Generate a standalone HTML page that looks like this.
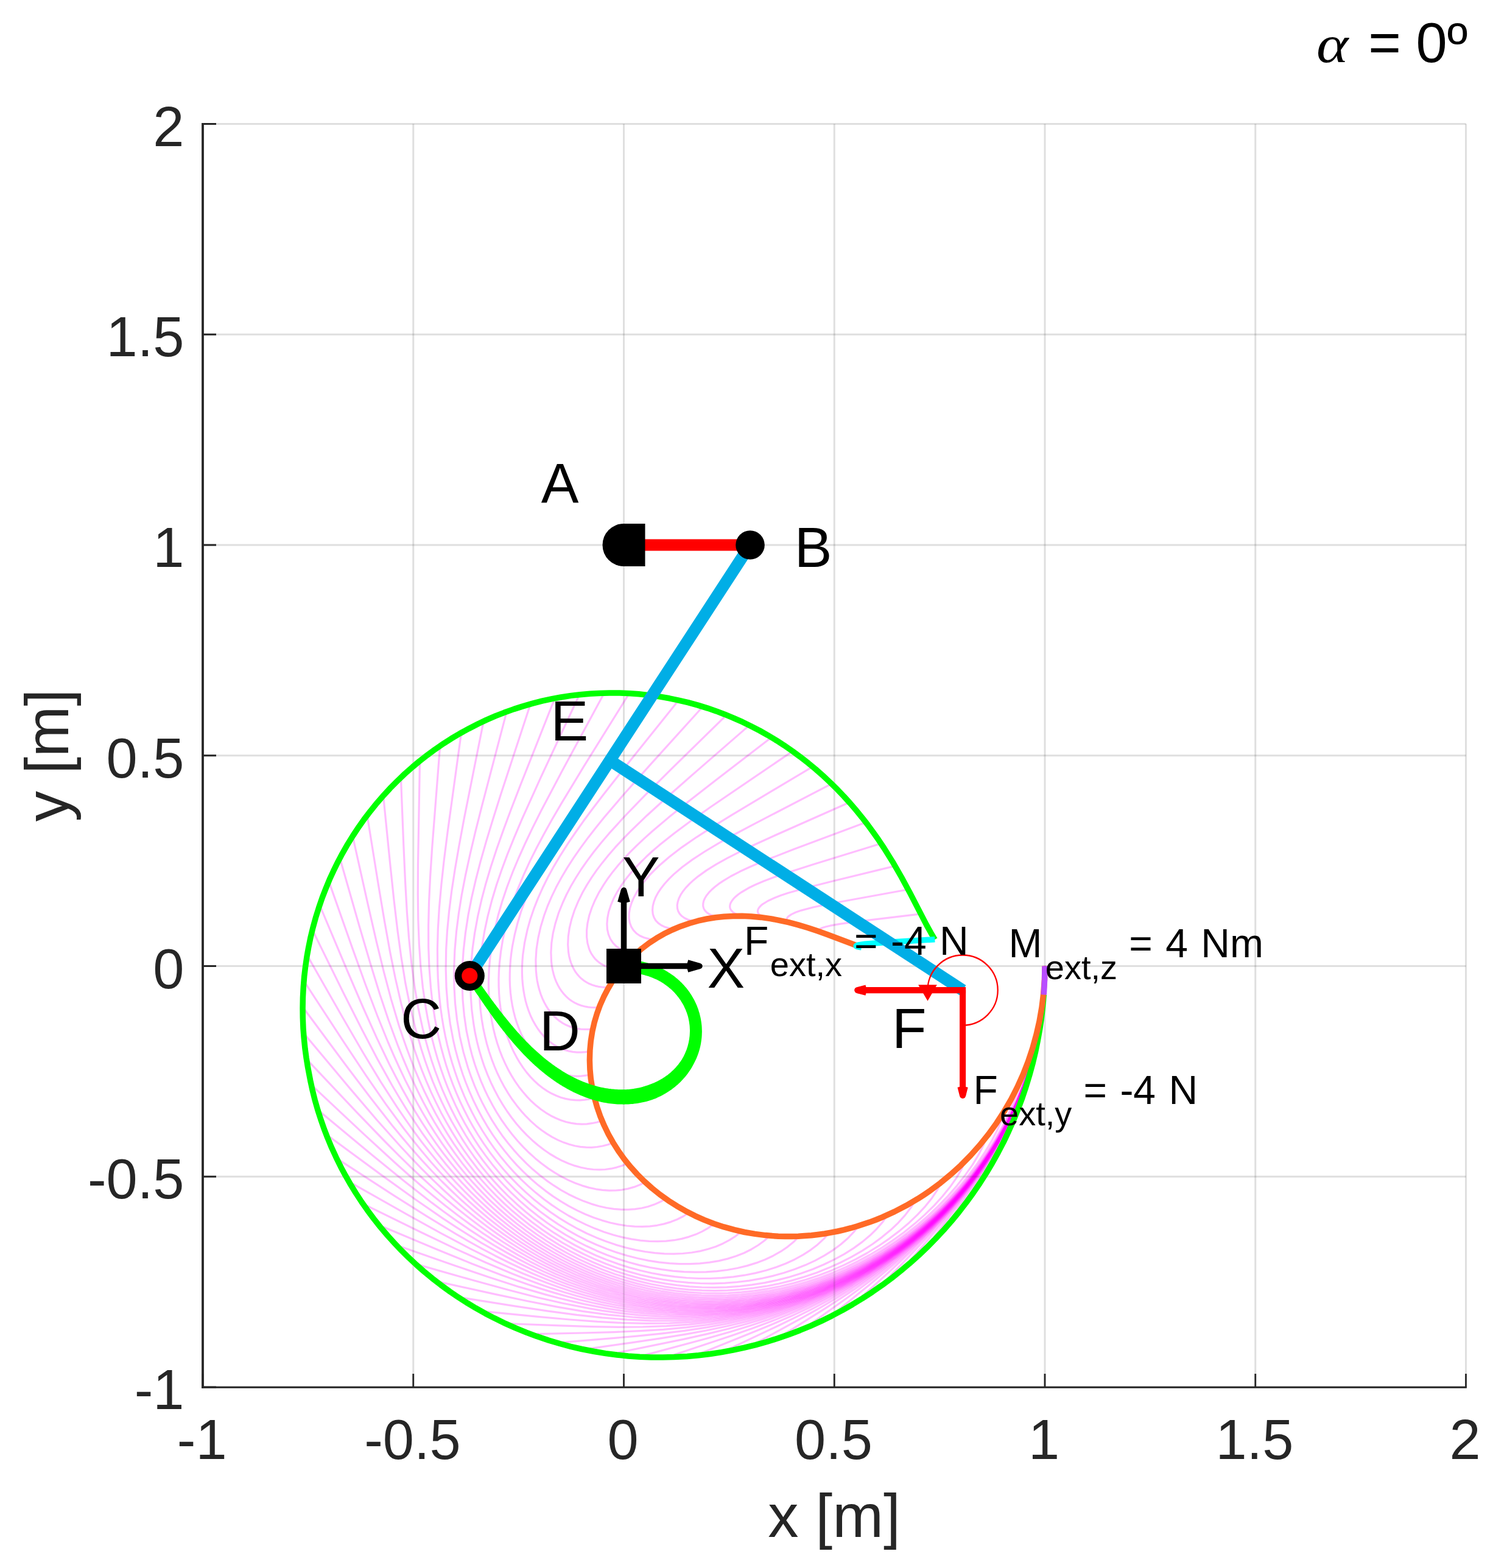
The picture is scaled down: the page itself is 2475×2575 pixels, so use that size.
<!DOCTYPE html>
<html lang="en"><head><meta charset="utf-8"><title>alpha = 0</title><style>html,body{margin:0;padding:0;background:#fff;}body{width:2475px;height:2575px;overflow:hidden;position:relative;}</style></head><body>
<svg xmlns="http://www.w3.org/2000/svg" width="2475" height="2575" viewBox="0 0 2475 2575" style="display:block;position:absolute;left:0;top:0">
<rect x="0" y="0" width="2475" height="2575" fill="#ffffff"/>
<g fill="none" stroke="#ff00ff" stroke-opacity="0.26" stroke-width="3.2" stroke-linejoin="round">
<path d="M1414.8,1555.8L1407.8,1554.6L1406.4,1553.8L1406.4,1553.1L1407.9,1552.3L1410.7,1551.6L1420.4,1550.2L1449.0,1547.9L1535.3,1542.8"/>
<path d="M1356.1,1533.6L1350.4,1532.5L1346.4,1531.0L1344.3,1529.4L1344.1,1528.4L1344.3,1527.5L1346.3,1525.6L1350.2,1523.8L1355.9,1522.0L1363.5,1520.2L1379.2,1517.4L1401.6,1514.2L1512.2,1500.9"/>
<path d="M1307.4,1518.0L1300.2,1516.3L1295.2,1514.0L1293.6,1512.6L1292.6,1511.2L1292.2,1509.7L1292.5,1508.1L1293.4,1506.5L1294.9,1504.9L1299.7,1501.6L1306.7,1498.3L1316.0,1495.1L1335.2,1490.0L1362.2,1484.2L1491.4,1460.7"/>
<path d="M1262.8,1508.3L1254.2,1506.1L1250.8,1504.6L1248.1,1502.9L1246.1,1501.0L1244.9,1499.0L1244.4,1496.7L1244.7,1494.4L1245.7,1492.0L1247.4,1489.6L1249.8,1487.1L1252.9,1484.6L1261.2,1479.5L1272.0,1474.5L1282.2,1470.6L1294.2,1466.5L1325.2,1457.7L1366.8,1447.2L1469.9,1422.1"/>
<path d="M1220.6,1504.3L1215.2,1503.2L1210.5,1501.7L1206.6,1499.9L1203.4,1497.7L1201.0,1495.2L1199.4,1492.5L1198.7,1489.5L1198.9,1486.3L1199.9,1483.1L1201.8,1479.7L1204.5,1476.2L1207.9,1472.7L1212.3,1469.0L1217.2,1465.5L1229.4,1458.3L1240.8,1452.8L1254.3,1447.0L1270.1,1441.0L1289.0,1434.5L1335.0,1419.7L1447.0,1385.3"/>
<path d="M1180.4,1506.0L1174.3,1504.8L1168.9,1503.1L1164.2,1500.9L1160.5,1498.2L1157.6,1495.1L1155.7,1491.7L1154.7,1487.8L1154.8,1483.8L1155.7,1479.5L1157.7,1475.0L1160.5,1470.4L1164.3,1465.7L1168.9,1461.0L1174.3,1456.2L1180.5,1451.4L1187.7,1446.6L1200.3,1439.0L1215.1,1431.3L1232.4,1423.3L1253.0,1414.5L1302.7,1395.1L1421.9,1350.5"/>
<path d="M1142.5,1513.2L1135.4,1511.9L1129.3,1510.0L1124.0,1507.5L1119.6,1504.3L1116.2,1500.6L1113.8,1496.4L1112.5,1491.7L1112.2,1486.6L1113.1,1481.2L1114.9,1475.5L1117.8,1469.7L1121.7,1463.7L1126.6,1457.6L1132.5,1451.4L1139.2,1445.2L1146.7,1439.1L1160.2,1429.4L1176.3,1419.4L1194.7,1409.1L1216.8,1397.9L1240.1,1386.8L1269.8,1373.2L1394.9,1317.7"/>
<path d="M1107.0,1525.6L1099.1,1524.4L1092.1,1522.4L1086.1,1519.5L1081.0,1515.9L1076.9,1511.6L1074.0,1506.5L1072.2,1500.9L1071.6,1494.7L1072.1,1488.2L1073.8,1481.3L1076.5,1474.1L1080.4,1466.7L1085.5,1459.0L1091.4,1451.5L1098.5,1443.7L1106.4,1435.9L1120.7,1423.8L1137.6,1411.4L1157.3,1398.5L1180.5,1384.6L1205.0,1371.0L1236.3,1354.3L1365.8,1287.2"/>
<path d="M1074.5,1543.1L1065.8,1541.9L1057.9,1539.8L1051.0,1536.7L1045.1,1532.7L1040.3,1527.7L1036.7,1521.9L1034.3,1515.3L1033.1,1508.0L1033.2,1500.2L1034.5,1491.9L1037.1,1483.2L1040.9,1474.2L1045.7,1465.2L1051.7,1456.0L1058.7,1446.7L1066.9,1437.2L1074.0,1429.8L1081.8,1422.3L1099.2,1407.2L1119.6,1391.6L1144.0,1374.8L1169.5,1358.3L1201.9,1338.3L1334.6,1259.1"/>
<path d="M1045.5,1565.1L1035.8,1564.2L1027.1,1562.1L1019.3,1558.8L1012.5,1554.3L1006.9,1548.7L1002.5,1542.1L999.3,1534.5L997.4,1526.1L996.9,1517.1L997.7,1507.5L999.7,1497.3L1003.1,1486.9L1007.6,1476.1L1013.5,1465.0L1020.5,1453.9L1028.7,1442.5L1036.0,1433.6L1043.7,1424.8L1052.4,1415.8L1061.6,1406.8L1071.7,1397.5L1082.7,1388.1L1107.6,1368.2L1133.8,1348.8L1167.1,1325.3L1301.7,1233.6"/>
<path d="M1020.4,1591.4L1009.9,1590.7L1000.2,1588.7L995.7,1587.1L991.4,1585.2L987.4,1583.0L983.7,1580.4L980.3,1577.5L977.1,1574.3L974.3,1570.7L971.7,1566.9L969.5,1562.8L967.6,1558.4L964.9,1548.9L963.6,1538.6L963.6,1527.5L965.0,1515.8L967.7,1503.6L971.9,1491.0L977.2,1478.4L983.9,1465.3L991.8,1452.3L999.0,1441.7L1006.7,1431.4L1015.2,1421.0L1024.5,1410.4L1034.6,1399.7L1045.7,1388.6L1057.9,1377.1L1071.1,1365.2L1097.9,1342.6L1131.6,1315.5L1174.6,1282.0L1266.9,1210.9"/>
<path d="M999.8,1621.2L994.0,1621.3L988.3,1621.0L982.9,1620.3L977.6,1619.1L972.6,1617.5L967.8,1615.6L963.3,1613.2L959.1,1610.5L955.1,1607.3L951.4,1603.8L948.0,1599.9L944.9,1595.7L942.2,1591.1L939.8,1586.2L937.7,1581.0L936.0,1575.5L934.6,1569.8L933.6,1563.8L932.7,1551.2L933.3,1537.8L935.3,1523.8L938.8,1509.4L943.5,1495.0L949.6,1480.4L957.0,1465.3L964.0,1453.1L971.6,1441.1L979.9,1429.1L989.2,1416.9L999.2,1404.5L1010.3,1391.7L1022.3,1378.7L1035.6,1365.1L1062.5,1339.2L1096.2,1308.5L1139.2,1270.6L1230.6,1191.1"/>
<path d="M984.1,1654.2L977.8,1654.6L971.7,1654.5L965.8,1653.9L960.0,1652.8L954.4,1651.3L949.1,1649.3L944.0,1646.9L939.2,1644.0L934.6,1640.7L930.3,1636.9L926.3,1632.7L922.6,1628.1L919.2,1623.1L916.2,1617.8L913.5,1612.1L911.1,1606.0L909.2,1599.7L907.6,1593.1L906.3,1586.2L905.5,1579.0L904.9,1564.1L905.8,1548.5L908.2,1532.7L912.1,1516.4L917.3,1499.7L924.2,1482.5L930.4,1469.0L937.6,1455.3L945.7,1441.5L954.6,1427.5L964.5,1413.4L975.4,1398.8L987.3,1384.0L1000.3,1368.7L1026.9,1339.5L1060.4,1304.9L1103.1,1262.4L1193.0,1174.3"/>
<path d="M973.7,1689.6L966.9,1690.3L960.4,1690.4L953.9,1690.1L947.6,1689.2L941.5,1687.7L935.6,1685.8L929.9,1683.3L924.4,1680.4L919.2,1676.9L914.2,1672.9L909.5,1668.5L905.2,1663.6L901.1,1658.3L897.3,1652.5L893.9,1646.3L890.8,1639.7L888.1,1632.8L885.8,1625.6L883.8,1618.0L882.2,1610.2L881.1,1602.2L880.3,1593.8L879.9,1576.7L881.0,1559.1L883.8,1540.7L888.0,1522.0L893.7,1503.2L899.3,1488.0L905.9,1472.6L913.4,1457.1L922.0,1441.3L931.4,1425.4L941.7,1409.3L953.3,1392.6L966.0,1375.4L978.4,1359.4L992.1,1342.6L1025.0,1304.0L1066.8,1257.1L1154.2,1160.5"/>
<path d="M968.8,1726.7L961.6,1727.7L954.5,1728.2L947.6,1728.1L940.7,1727.4L934.1,1726.1L927.5,1724.3L921.2,1721.9L915.1,1718.9L909.1,1715.3L903.4,1711.2L898.0,1706.5L892.8,1701.3L887.9,1695.7L883.3,1689.5L879.1,1682.9L875.1,1675.8L871.6,1668.5L868.5,1660.7L865.7,1652.6L863.3,1644.1L861.4,1635.5L859.8,1626.6L858.6,1617.3L857.8,1607.9L857.4,1598.1L857.4,1588.5L857.9,1578.6L858.7,1568.3L861.7,1547.6L866.2,1526.7L870.9,1509.8L876.7,1492.7L883.5,1475.4L891.1,1458.3L899.9,1440.5L909.7,1422.6L920.6,1404.3L932.8,1385.2L944.8,1367.5L958.0,1348.8L972.8,1328.8L989.8,1306.5L1030.3,1255.0L1114.5,1150.0"/>
<path d="M969.6,1764.7L962.0,1766.2L954.5,1767.1L947.0,1767.3L939.7,1766.8L932.4,1765.8L925.2,1764.1L918.2,1761.7L911.3,1758.8L904.6,1755.1L898.1,1751.0L891.9,1746.2L885.8,1740.8L880.1,1734.9L874.6,1728.4L869.4,1721.4L864.5,1714.0L860.1,1706.1L856.0,1697.9L852.3,1689.2L849.0,1680.2L846.0,1670.9L843.5,1661.1L841.4,1651.1L839.7,1640.9L838.4,1630.2L837.6,1619.8L837.2,1609.0L837.3,1598.6L837.7,1587.8L838.5,1576.6L839.8,1565.3L841.5,1553.7L845.2,1535.2L849.8,1516.8L855.5,1497.7L862.3,1478.8L870.2,1459.2L879.2,1439.3L889.3,1419.2L900.8,1398.1L912.2,1378.6L924.8,1358.1L939.0,1336.1L955.3,1311.8L994.0,1256.0L1074.1,1142.7"/>
<path d="M976.3,1802.9L968.3,1804.9L960.3,1806.2L952.4,1806.8L944.5,1806.7L936.6,1805.9L928.8,1804.4L921.0,1802.2L913.4,1799.3L905.9,1795.8L898.5,1791.6L891.3,1786.7L884.3,1781.2L877.6,1775.1L871.1,1768.4L864.9,1761.1L859.1,1753.4L853.7,1745.2L848.6,1736.6L843.8,1727.6L839.5,1718.1L835.5,1708.3L831.9,1698.1L828.8,1687.6L826.1,1676.8L823.7,1665.3L821.9,1654.2L820.5,1642.5L819.6,1631.3L819.1,1619.6L819.0,1607.5L819.4,1595.2L820.3,1582.7L822.6,1562.5L825.9,1542.6L830.5,1521.8L836.2,1501.1L842.9,1480.3L850.9,1458.6L860.1,1436.6L870.6,1413.6L881.1,1392.7L892.9,1370.4L906.2,1346.5L921.6,1320.1L958.2,1259.7L1033.4,1138.7"/>
<path d="M988.8,1840.5L980.5,1843.0L972.1,1844.7L963.7,1845.8L955.2,1846.1L946.7,1845.6L938.2,1844.4L929.7,1842.5L921.3,1839.8L912.9,1836.3L904.6,1832.2L896.4,1827.3L888.4,1821.8L880.6,1815.6L873.1,1808.8L865.9,1801.4L858.9,1793.3L852.3,1784.9L846.0,1775.9L840.1,1766.4L834.6,1756.6L829.6,1746.4L824.8,1735.6L820.6,1724.8L816.7,1713.3L813.2,1701.2L810.3,1689.4L807.8,1677.0L805.8,1665.0L804.3,1652.5L803.2,1639.7L802.6,1626.5L802.4,1613.8L803.2,1592.2L805.1,1570.7L808.2,1548.9L812.5,1526.6L817.9,1504.0L824.7,1480.5L832.7,1456.7L842.0,1432.2L851.5,1409.5L862.3,1385.5L874.6,1359.6L888.8,1331.2L922.8,1266.8L992.4,1138.1"/>
<path d="M1007.0,1876.6L998.4,1879.7L989.6,1882.0L980.7,1883.5L971.7,1884.3L962.6,1884.2L953.3,1883.4L944.1,1881.7L934.8,1879.3L925.5,1876.1L916.2,1872.1L907.0,1867.4L898.0,1861.9L889.1,1855.7L880.4,1848.9L872.0,1841.4L863.8,1833.2L856.0,1824.6L848.6,1815.4L841.4,1805.8L834.7,1795.6L828.3,1784.9L822.4,1773.9L817.0,1762.8L811.9,1750.8L807.4,1739.1L803.2,1726.7L799.4,1713.7L796.3,1701.0L793.5,1687.8L791.2,1674.2L789.4,1660.2L788.2,1646.8L787.2,1623.8L787.4,1600.9L788.9,1577.6L791.7,1553.7L795.7,1529.5L801.0,1504.9L807.6,1479.3L815.5,1453.0L823.8,1428.7L833.4,1402.9L844.4,1375.6L857.3,1345.2L888.2,1276.6L951.6,1140.8"/>
<path d="M1030.8,1910.5L1021.9,1914.2L1012.8,1917.1L1003.5,1919.2L994.0,1920.5L984.2,1920.9L974.3,1920.5L964.3,1919.3L954.2,1917.3L944.0,1914.4L933.7,1910.8L923.5,1906.3L913.3,1901.0L903.2,1895.0L893.4,1888.3L883.7,1880.8L874.2,1872.7L865.2,1864.2L856.6,1855.1L848.2,1845.5L840.2,1835.2L832.5,1824.5L825.3,1813.4L818.7,1802.2L812.1,1789.8L806.2,1777.7L800.7,1764.8L795.4,1751.2L791.0,1738.0L786.9,1724.3L783.5,1710.9L780.3,1696.2L777.9,1682.1L774.8,1658.5L773.1,1634.2L772.8,1609.5L773.7,1584.0L776.0,1558.3L779.7,1532.0L784.7,1504.7L791.1,1476.7L798.0,1450.7L806.2,1423.2L815.8,1394.1L827.2,1361.9L839.5,1328.8L854.8,1289.2L911.1,1146.8"/>
<path d="M1059.7,1941.4L1050.7,1945.8L1041.2,1949.4L1031.4,1952.1L1021.4,1954.0L1011.0,1955.0L1000.5,1955.1L989.6,1954.4L978.6,1952.8L967.4,1950.4L956.2,1947.1L944.9,1943.0L933.6,1938.1L922.3,1932.4L911.2,1925.9L900.1,1918.6L889.5,1910.8L879.2,1902.4L869.1,1893.3L859.3,1883.6L850.0,1873.5L841.0,1862.8L832.3,1851.4L824.4,1840.3L816.3,1827.7L809.1,1815.3L802.1,1802.1L795.9,1789.2L790.0,1775.6L784.5,1761.3L779.7,1747.5L775.1,1732.2L771.3,1717.5L766.1,1692.9L762.4,1667.5L760.0,1641.6L759.0,1614.8L759.4,1587.7L761.3,1560.0L764.5,1531.7L769.1,1502.0L774.5,1474.6L781.2,1445.6L789.1,1414.9L798.8,1380.9L809.4,1346.0L822.5,1304.5L871.2,1156.2"/>
<path d="M1093.5,1968.7L1084.2,1973.8L1074.5,1978.1L1064.4,1981.5L1053.8,1984.0L1042.9,1985.7L1031.6,1986.4L1020.0,1986.3L1008.1,1985.3L996.0,1983.5L983.6,1980.7L971.2,1977.1L958.7,1972.6L946.2,1967.3L933.7,1961.2L921.4,1954.3L909.3,1946.7L897.6,1938.6L886.2,1929.8L875.0,1920.3L864.3,1910.4L853.8,1899.7L843.8,1888.6L834.6,1877.5L824.9,1864.9L816.2,1852.4L807.7,1839.1L800.1,1826.0L792.7,1812.1L785.7,1797.6L779.6,1783.4L773.9,1768.7L768.6,1753.5L761.2,1728.1L755.1,1701.8L750.6,1674.8L747.5,1647.6L745.9,1619.2L745.7,1590.2L746.9,1560.5L749.6,1529.4L753.3,1500.6L758.1,1470.4L764.3,1438.2L772.1,1402.5L780.7,1366.1L791.7,1322.7L832.1,1168.8"/>
<path d="M1131.4,1991.7L1122.1,1997.5L1112.2,2002.5L1101.8,2006.6L1090.8,2009.9L1079.3,2012.3L1067.3,2013.8L1054.9,2014.4L1042.2,2014.1L1029.1,2013.0L1015.8,2010.9L1002.3,2008.0L988.6,2004.1L974.9,1999.5L961.2,1994.0L947.5,1987.6L934.1,1980.6L921.1,1972.9L908.3,1964.6L895.8,1955.6L883.7,1946.1L872.0,1936.0L860.4,1925.2L849.0,1913.6L838.8,1902.2L828.5,1889.8L818.3,1876.4L809.1,1863.3L800.1,1849.3L792.1,1835.6L784.4,1821.2L777.0,1806.2L770.2,1790.7L764.9,1777.5L760.2,1764.7L755.8,1751.3L751.7,1737.5L747.9,1723.3L744.7,1709.7L739.4,1681.5L735.5,1652.7L733.1,1622.5L732.2,1591.5L732.7,1558.9L734.5,1528.8L737.5,1497.3L741.7,1463.6L747.4,1426.5L754.0,1388.5L762.4,1343.4L794.2,1184.4"/>
<path d="M1173.1,2009.7L1163.7,2016.3L1153.6,2022.1L1142.9,2027.1L1131.5,2031.1L1119.5,2034.4L1106.9,2036.7L1093.7,2038.1L1080.1,2038.7L1066.1,2038.3L1051.7,2037.1L1037.1,2034.9L1022.2,2031.9L1007.3,2028.0L992.2,2023.2L977.3,2017.6L962.4,2011.1L948.0,2004.1L933.9,1996.5L920.0,1988.0L906.6,1979.1L893.4,1969.5L880.4,1959.1L867.5,1947.9L855.8,1936.8L843.9,1924.6L833.0,1912.5L822.2,1899.5L811.6,1885.6L802.0,1871.9L792.7,1857.5L783.7,1842.4L775.3,1826.7L768.6,1813.3L762.7,1800.3L757.0,1786.7L751.9,1773.5L746.9,1759.1L742.4,1745.0L738.3,1730.7L734.6,1716.1L731.3,1701.3L728.4,1686.4L725.8,1670.8L723.6,1655.2L721.8,1639.1L720.4,1623.2L719.3,1606.4L718.7,1589.4L718.4,1558.2L719.3,1525.6L721.4,1490.7L724.9,1452.2L729.2,1412.9L735.1,1366.4L757.6,1203.3"/>
<path d="M1217.7,2022.4L1208.4,2029.8L1198.2,2036.4L1187.2,2042.2L1175.5,2047.2L1162.9,2051.3L1149.8,2054.6L1135.9,2057.0L1121.5,2058.5L1106.5,2059.1L1091.1,2058.8L1075.4,2057.6L1059.4,2055.5L1043.5,2052.6L1027.3,2048.8L1011.1,2044.1L994.9,2038.6L979.3,2032.4L963.6,2025.5L948.4,2017.8L933.3,2009.4L918.5,2000.3L904.1,1990.6L889.8,1980.0L876.5,1969.4L863.1,1957.6L850.7,1945.9L838.3,1933.1L827.0,1920.5L815.8,1907.0L804.8,1892.7L794.2,1877.7L784.7,1863.0L776.6,1849.6L769.3,1836.5L762.3,1822.8L755.9,1809.5L749.5,1794.8L743.7,1780.6L738.3,1766.0L733.3,1751.1L728.8,1736.0L724.6,1720.8L720.7,1704.8L717.3,1688.8L714.2,1672.3L711.6,1655.9L709.4,1639.2L707.5,1621.7L705.0,1589.5L703.7,1555.8L703.6,1519.8L704.6,1480.1L706.6,1439.6L709.7,1391.8L722.7,1225.0"/>
<path d="M1264.5,2029.3L1255.3,2037.5L1245.0,2045.0L1233.9,2051.7L1221.8,2057.7L1208.9,2062.8L1195.1,2067.1L1180.6,2070.6L1165.3,2073.2L1149.4,2074.9L1133.0,2075.7L1116.4,2075.7L1099.3,2074.7L1082.1,2072.8L1064.7,2070.1L1047.3,2066.5L1029.8,2062.0L1013.2,2056.9L996.5,2051.0L979.9,2044.3L963.8,2037.0L948.3,2029.1L932.9,2020.5L916.9,2010.6L902.1,2000.6L886.9,1989.5L873.0,1978.2L858.9,1966.0L846.0,1953.8L833.2,1940.7L820.6,1926.7L808.3,1911.9L797.2,1897.4L787.7,1884.1L779.1,1871.1L770.7,1857.4L763.0,1844.1L755.6,1830.3L748.5,1815.9L741.8,1801.2L735.4,1786.2L729.5,1770.9L724.1,1755.5L718.8,1739.2L714.1,1722.9L709.7,1706.1L705.9,1689.4L702.4,1672.3L699.2,1654.4L694.4,1621.5L690.8,1586.9L688.3,1550.0L686.8,1509.7L686.3,1468.2L686.5,1419.4L689.5,1249.6"/>
<path d="M1312.8,2030.1L1303.7,2039.2L1293.5,2047.6L1282.3,2055.2L1269.9,2062.2L1256.6,2068.5L1242.3,2073.9L1227.1,2078.6L1211.1,2082.5L1194.5,2085.5L1177.3,2087.6L1159.7,2088.8L1141.7,2089.1L1123.4,2088.6L1105.0,2087.1L1086.5,2084.7L1067.8,2081.5L1050.0,2077.6L1032.1,2072.8L1014.3,2067.2L996.9,2060.9L979.8,2053.9L963.2,2046.3L945.7,2037.3L929.4,2028.1L914.2,2018.7L898.7,2008.2L883.0,1996.6L868.5,1985.0L854.0,1972.4L839.8,1958.9L826.7,1945.5L813.9,1931.4L803.0,1918.3L792.9,1905.5L783.1,1892.0L774.0,1878.8L765.2,1865.0L756.8,1850.8L748.6,1836.1L740.9,1821.0L733.7,1805.7L726.8,1790.1L720.5,1774.4L714.4,1758.0L708.6,1740.9L703.4,1723.9L698.6,1706.6L694.0,1688.4L686.8,1654.8L680.8,1619.6L675.8,1581.9L671.6,1540.7L668.4,1498.5L665.6,1448.8L662.8,1388.0L658.4,1277.0"/>
<path d="M1361.7,2024.7L1352.9,2034.6L1342.8,2043.9L1331.5,2052.6L1319.0,2060.7L1305.3,2068.2L1290.5,2075.0L1274.8,2081.0L1258.2,2086.2L1240.9,2090.6L1222.8,2094.2L1204.4,2096.8L1185.5,2098.6L1166.4,2099.5L1147.2,2099.5L1127.6,2098.5L1108.1,2096.7L1089.2,2094.1L1070.5,2090.7L1051.9,2086.5L1033.3,2081.5L1014.7,2075.6L996.0,2068.7L978.8,2061.7L961.1,2053.5L944.4,2045.0L927.4,2035.4L910.1,2024.7L894.1,2013.8L878.0,2001.9L863.2,1990.0L848.5,1977.2L834.0,1963.6L822.4,1951.9L810.9,1939.4L799.5,1926.2L789.1,1913.3L778.8,1899.7L768.9,1885.6L759.3,1871.0L750.2,1856.0L741.4,1840.7L733.2,1825.2L725.5,1809.5L717.9,1792.9L710.7,1775.8L704.1,1758.7L697.9,1741.2L691.9,1722.8L682.2,1688.8L673.6,1653.1L665.9,1614.9L659.1,1573.1L653.2,1530.3L647.2,1480.0L640.7,1418.4L629.5,1306.7"/>
<path d="M1410.4,2013.0L1401.8,2023.7L1391.9,2034.0L1380.6,2043.8L1367.9,2053.1L1353.9,2061.9L1338.8,2070.1L1322.6,2077.6L1305.5,2084.3L1287.5,2090.3L1269.1,2095.4L1250.0,2099.7L1230.4,2103.1L1210.6,2105.5L1190.6,2107.1L1170.4,2107.8L1149.9,2107.5L1130.4,2106.4L1110.7,2104.5L1091.3,2101.7L1071.7,2098.1L1052.3,2093.7L1032.9,2088.4L1014.4,2082.5L995.2,2075.5L977.2,2068.1L958.7,2059.5L941.4,2050.7L923.8,2040.8L906.1,2029.9L889.7,2018.8L873.4,2006.7L857.3,1993.8L844.3,1982.6L831.4,1970.6L818.6,1957.9L806.8,1945.4L795.1,1932.2L783.8,1918.4L772.8,1904.1L762.2,1889.4L752.0,1874.3L742.4,1858.9L733.3,1843.3L724.3,1826.9L716.0,1810.4L707.9,1793.4L700.3,1775.8L692.8,1757.4L686.5,1740.4L680.5,1723.2L669.3,1687.3L659.0,1648.7L649.3,1606.5L640.6,1563.4L631.4,1512.4L621.0,1450.6L603.0,1338.8"/>
<path d="M1457.9,1995.0L1449.8,2006.6L1440.1,2017.8L1428.9,2028.8L1416.3,2039.4L1402.2,2049.6L1386.8,2059.3L1370.2,2068.4L1352.7,2076.8L1334.4,2084.5L1315.5,2091.3L1296.1,2097.3L1276.1,2102.4L1255.8,2106.6L1235.2,2109.9L1214.5,2112.3L1193.6,2113.8L1173.2,2114.3L1152.7,2114.0L1132.5,2112.8L1111.9,2110.7L1092.5,2107.9L1071.6,2104.1L1052.0,2099.6L1031.4,2093.9L1012.1,2087.8L992.2,2080.5L973.6,2072.8L954.6,2064.0L936.9,2054.9L919.0,2044.8L901.1,2033.7L884.5,2022.4L870.2,2012.0L855.8,2000.6L841.5,1988.6L828.2,1976.5L815.2,1963.8L802.4,1950.5L789.9,1936.7L778.4,1923.1L766.8,1908.3L755.6,1893.2L745.0,1877.8L734.6,1861.6L724.8,1845.3L715.2,1828.3L706.1,1810.8L697.1,1792.5L689.4,1775.5L682.1,1758.3L675.0,1740.5L668.2,1722.2L661.5,1703.3L655.0,1683.5L642.4,1641.1L630.8,1597.7L618.3,1546.7L604.1,1484.6L579.2,1373.1"/>
<path d="M1503.6,1971.0L1495.9,1983.3L1486.5,1995.6L1475.5,2007.8L1462.9,2019.8L1448.6,2031.6L1433.1,2043.0L1416.3,2053.9L1398.5,2064.1L1380.1,2073.5L1361.0,2082.1L1341.4,2089.9L1321.2,2096.8L1300.5,2102.9L1279.7,2108.0L1258.3,2112.2L1237.0,2115.4L1215.9,2117.7L1195.0,2119.1L1174.0,2119.6L1153.0,2119.2L1131.1,2117.8L1111.6,2115.8L1090.9,2112.8L1069.2,2108.7L1048.7,2103.9L1029.4,2098.6L1009.5,2092.2L989.1,2084.7L970.0,2076.8L950.7,2067.9L931.3,2057.9L913.3,2047.7L897.7,2038.0L882.0,2027.5L866.3,2016.2L851.7,2004.9L837.3,1992.9L823.1,1980.2L809.3,1966.9L796.5,1953.8L783.4,1939.5L770.9,1924.9L758.9,1909.9L747.1,1894.0L735.8,1878.0L724.9,1861.4L714.3,1844.2L704.2,1826.6L695.1,1809.8L686.5,1792.7L678.0,1775.0L669.8,1756.8L661.8,1738.0L653.9,1718.2L638.3,1676.0L623.8,1632.7L608.1,1581.7L589.9,1520.0L558.2,1409.2"/>
<path d="M1546.5,1941.1L1539.3,1954.3L1530.4,1967.7L1519.6,1981.1L1507.0,1994.7L1492.9,2008.2L1477.3,2021.4L1460.5,2034.1L1442.8,2046.2L1424.5,2057.5L1405.4,2068.0L1385.7,2077.6L1365.6,2086.4L1345.1,2094.2L1324.2,2101.2L1302.8,2107.4L1281.2,2112.5L1260.0,2116.6L1239.0,2119.8L1217.5,2122.1L1195.9,2123.5L1175.3,2123.9L1152.4,2123.5L1130.7,2122.1L1110.2,2120.0L1088.6,2116.8L1068.2,2113.0L1047.0,2108.1L1025.4,2102.1L1005.0,2095.5L984.4,2087.9L965.0,2079.8L945.6,2070.7L928.7,2062.1L911.7,2052.5L895.7,2042.9L879.7,2032.4L863.9,2021.2L848.2,2009.3L832.9,1996.7L818.7,1984.2L804.9,1971.3L790.9,1957.1L777.4,1942.7L763.9,1927.3L751.2,1911.7L738.7,1895.4L726.6,1878.5L714.6,1860.6L704.1,1844.1L694.1,1827.2L684.2,1809.7L674.7,1791.8L665.2,1773.1L655.9,1753.5L646.6,1733.0L637.3,1711.5L619.9,1668.5L600.6,1617.7L578.5,1556.4L540.0,1447.1"/>
<path d="M1585.9,1905.8L1579.3,1919.9L1570.8,1934.4L1560.3,1949.3L1548.0,1964.5L1534.1,1979.9L1518.8,1994.9L1502.2,2009.6L1484.7,2023.7L1466.9,2036.6L1448.2,2049.0L1428.9,2060.5L1409.0,2071.2L1388.9,2080.9L1368.0,2089.9L1346.9,2097.9L1325.2,2105.0L1304.1,2111.0L1282.7,2116.0L1261.2,2120.2L1239.8,2123.4L1217.1,2125.8L1196.0,2127.2L1173.4,2127.6L1152.0,2127.2L1129.4,2125.8L1108.0,2123.6L1085.8,2120.3L1064.8,2116.3L1043.3,2111.2L1021.3,2105.1L1000.7,2098.4L980.0,2090.7L961.9,2083.2L943.6,2074.8L926.4,2066.1L909.2,2056.6L892.0,2046.4L875.0,2035.3L858.4,2023.6L842.9,2012.0L827.8,1999.7L812.3,1986.3L797.5,1972.5L782.6,1957.8L768.5,1942.7L754.6,1927.0L741.0,1910.6L727.9,1893.8L716.1,1877.6L704.7,1861.1L693.4,1843.9L682.5,1826.3L671.6,1807.9L660.8,1788.6L650.0,1768.3L639.2,1747.2L618.8,1704.6L596.3,1654.5L570.3,1594.0L525.0,1486.4"/>
<path d="M1621.2,1865.6L1618.5,1873.0L1615.2,1880.5L1607.2,1896.2L1597.2,1912.8L1585.2,1929.9L1571.7,1947.1L1556.9,1964.1L1540.9,1980.7L1524.0,1996.6L1506.7,2011.5L1488.8,2025.6L1470.1,2039.0L1450.7,2051.6L1430.9,2063.3L1410.6,2074.1L1389.8,2084.0L1368.4,2093.1L1347.5,2101.0L1326.6,2107.8L1305.3,2113.8L1284.0,2118.9L1261.2,2123.3L1239.5,2126.6L1216.2,2129.0L1194.1,2130.4L1170.7,2130.9L1148.5,2130.3L1125.4,2128.8L1103.5,2126.4L1081.0,2123.0L1059.7,2118.8L1038.0,2113.7L1016.0,2107.4L996.8,2101.2L977.3,2094.0L959.1,2086.5L940.7,2078.1L922.3,2068.9L905.1,2059.6L887.1,2048.9L870.3,2038.1L853.9,2026.7L837.1,2014.2L820.8,2001.2L804.5,1987.2L789.0,1972.9L773.6,1957.8L758.6,1942.1L744.1,1925.8L730.9,1910.1L718.1,1894.1L705.5,1877.4L693.1,1860.2L680.9,1842.2L668.6,1823.3L656.4,1803.5L644.1,1782.7L620.8,1740.9L594.9,1691.6L564.9,1632.2L513.1,1527.1"/>
<path d="M1651.5,1821.1L1649.2,1828.7L1646.3,1836.7L1638.9,1853.9L1629.4,1872.3L1618.0,1891.4L1605.3,1910.5L1591.3,1929.3L1576.3,1947.7L1560.3,1965.5L1544.0,1982.1L1527.0,1997.9L1509.4,2013.0L1490.8,2027.4L1471.9,2040.9L1452.2,2053.7L1432.0,2065.6L1411.1,2076.6L1390.0,2086.7L1368.5,2095.8L1346.8,2103.9L1324.7,2111.0L1301.7,2117.4L1279.7,2122.5L1258.6,2126.4L1235.9,2129.7L1214.3,2131.9L1191.3,2133.3L1167.4,2133.7L1144.7,2133.1L1121.2,2131.5L1099.0,2129.0L1076.3,2125.4L1054.9,2121.2L1034.6,2116.3L1014.1,2110.6L994.7,2104.3L975.1,2097.2L955.6,2089.3L937.2,2081.0L918.0,2071.5L900.0,2061.8L882.3,2051.4L864.2,2039.9L846.6,2027.8L828.9,2014.7L812.0,2001.2L795.3,1987.0L779.4,1972.5L763.4,1956.9L748.9,1941.9L734.7,1926.5L720.7,1910.3L707.0,1893.6L693.3,1876.2L679.6,1857.8L665.9,1838.4L652.1,1818.1L625.6,1777.1L596.5,1729.0L562.8,1671.0L504.4,1568.6"/>
<path d="M1676.5,1772.9L1674.6,1780.9L1672.1,1789.5L1665.3,1808.4L1656.5,1828.9L1646.0,1850.1L1634.5,1870.8L1621.8,1891.2L1608.0,1911.3L1593.4,1930.6L1578.3,1948.8L1562.4,1966.4L1545.7,1983.3L1528.5,1999.3L1510.3,2014.7L1491.7,2029.2L1472.3,2043.0L1452.5,2055.8L1432.6,2067.5L1412.0,2078.4L1391.0,2088.4L1369.8,2097.5L1346.5,2106.2L1324.1,2113.4L1302.7,2119.4L1279.6,2124.8L1257.5,2128.9L1234.0,2132.3L1211.6,2134.6L1188.1,2135.9L1163.8,2136.3L1140.8,2135.6L1117.1,2133.9L1094.8,2131.3L1073.6,2128.0L1052.1,2123.8L1031.7,2118.9L1011.2,2113.2L990.5,2106.6L971.1,2099.6L950.7,2091.4L931.6,2082.8L912.8,2073.6L893.4,2063.1L874.6,2052.1L855.6,2040.1L837.4,2027.6L819.4,2014.3L802.2,2000.7L784.9,1986.0L769.0,1971.7L753.6,1957.0L738.3,1941.6L723.2,1925.5L708.2,1908.7L693.2,1891.0L678.0,1872.3L662.7,1852.7L633.4,1812.9L601.1,1766.2L563.7,1709.9L499.0,1610.8"/>
<path d="M1695.7,1721.8L1694.2,1730.2L1692.1,1739.6L1686.1,1760.7L1678.4,1783.4L1669.2,1806.3L1659.2,1828.3L1648.1,1850.1L1636.1,1871.4L1623.0,1892.1L1609.4,1911.9L1594.9,1931.1L1579.5,1949.6L1563.5,1967.3L1546.6,1984.4L1529.0,2000.7L1510.6,2016.4L1491.8,2031.0L1472.1,2044.9L1452.0,2057.9L1431.1,2070.1L1409.9,2081.3L1389.5,2090.9L1367.1,2100.4L1345.5,2108.4L1322.2,2115.9L1299.8,2122.1L1276.0,2127.5L1253.2,2131.7L1229.3,2135.0L1206.5,2137.2L1182.8,2138.4L1158.4,2138.6L1135.3,2137.8L1113.4,2136.2L1092.5,2133.8L1071.3,2130.5L1049.7,2126.3L1028.1,2121.2L1007.7,2115.6L987.3,2109.2L965.9,2101.5L946.0,2093.5L925.4,2084.3L905.4,2074.5L886.0,2064.1L866.5,2052.7L847.1,2040.5L827.9,2027.4L809.2,2013.7L792.1,2000.3L775.4,1986.4L758.8,1971.8L742.5,1956.5L726.1,1940.5L709.7,1923.5L693.1,1905.6L676.4,1886.7L660.6,1868.1L644.3,1848.4L608.7,1803.1L567.6,1748.7L497.1,1653.6"/>
<path d="M1708.6,1668.5L1705.9,1688.2L1701.1,1712.2L1695.0,1736.4L1687.7,1760.4L1679.5,1783.6L1670.3,1806.4L1660.1,1828.7L1648.9,1850.6L1636.9,1871.8L1624.0,1892.4L1610.3,1912.3L1595.5,1931.8L1579.9,1950.7L1563.5,1968.8L1546.7,1985.8L1528.7,2002.4L1510.2,2018.1L1490.9,2033.1L1471.4,2046.9L1450.6,2060.3L1430.4,2072.0L1408.1,2083.7L1386.6,2093.8L1365.8,2102.5L1343.3,2110.8L1319.3,2118.5L1296.2,2124.7L1272.0,2130.2L1248.8,2134.3L1224.6,2137.5L1199.7,2139.7L1176.0,2140.8L1153.5,2140.8L1132.0,2140.0L1110.1,2138.3L1087.8,2135.8L1065.3,2132.2L1044.1,2128.1L1022.9,2123.1L1000.6,2116.9L979.7,2110.2L958.2,2102.4L937.1,2093.9L916.6,2084.7L896.0,2074.5L876.2,2063.9L855.8,2052.0L835.9,2039.4L817.5,2026.9L799.7,2014.0L781.8,2000.3L764.2,1986.0L746.6,1970.8L728.9,1954.7L710.9,1937.7L692.8,1919.7L675.7,1901.9L658.1,1883.0L619.4,1839.7L574.9,1787.6L498.5,1696.5"/>
<path d="M1715.2,1614.0L1713.6,1637.5L1710.7,1662.5L1706.8,1687.1L1701.8,1711.5L1695.7,1735.5L1688.6,1759.0L1680.4,1782.5L1671.3,1805.3L1661.1,1827.9L1649.9,1850.0L1637.8,1871.6L1624.8,1892.4L1610.9,1912.6L1596.1,1932.3L1580.4,1951.3L1563.8,1969.6L1546.9,1986.7L1529.1,2003.3L1511.6,2018.2L1491.2,2034.1L1471.4,2048.1L1449.4,2062.2L1428.1,2074.6L1407.5,2085.3L1385.1,2095.8L1363.5,2104.8L1340.3,2113.3L1315.8,2121.0L1292.3,2127.3L1267.8,2132.7L1242.4,2137.0L1218.3,2140.0L1195.2,2141.9L1173.3,2142.9L1150.7,2142.9L1127.8,2142.1L1104.6,2140.2L1082.7,2137.6L1060.7,2134.2L1038.7,2129.8L1016.9,2124.6L994.3,2118.3L972.2,2111.2L950.6,2103.4L928.9,2094.6L907.9,2085.2L886.4,2074.6L865.2,2063.2L845.7,2051.9L826.7,2040.0L807.6,2027.3L788.8,2014.0L770.0,1999.8L750.9,1984.7L731.7,1968.7L712.2,1951.6L693.8,1934.8L674.8,1916.8L654.6,1897.1L633.1,1875.5L585.2,1825.8L503.3,1739.2"/>
<path d="M1716.0,1586.5L1715.5,1611.2L1713.8,1635.9L1711.1,1660.4L1707.4,1684.7L1702.5,1709.0L1696.6,1732.9L1689.7,1756.5L1681.7,1779.7L1672.8,1802.6L1662.9,1824.9L1651.9,1847.1L1640.0,1868.5L1627.1,1889.7L1613.4,1910.0L1598.8,1929.6L1583.2,1948.9L1566.5,1967.6L1548.9,1985.8L1530.9,2002.7L1511.5,2019.3L1492.6,2034.0L1471.6,2049.0L1451.2,2062.2L1431.3,2073.9L1409.7,2085.4L1388.7,2095.5L1366.1,2105.1L1342.2,2114.0L1319.2,2121.4L1295.2,2128.1L1272.1,2133.4L1248.1,2137.8L1225.2,2141.0L1203.3,2143.2L1180.8,2144.6L1157.8,2145.1L1134.5,2144.6L1112.5,2143.3L1090.3,2141.1L1068.0,2138.1L1045.9,2134.2L1022.9,2129.2L1000.4,2123.5L978.4,2116.9L956.2,2109.4L934.6,2101.3L912.4,2092.0L890.6,2081.9L870.4,2071.7L850.7,2061.0L830.9,2049.5L811.3,2037.3L791.6,2024.3L771.7,2010.4L751.5,1995.5L731.1,1979.7L711.7,1964.0L691.7,1947.2L670.4,1928.8L647.7,1908.5L597.2,1862.1L511.1,1781.3"/>
<path d="M1716.0,1586.5L1715.5,1610.6L1714.0,1634.7L1711.4,1658.7L1707.8,1682.5L1703.2,1706.2L1697.6,1729.5L1691.1,1752.6L1683.4,1775.5L1674.9,1798.1L1665.4,1820.1L1654.9,1841.9L1643.5,1863.0L1631.2,1883.8L1618.0,1903.9L1604.1,1923.4L1589.1,1942.5L1573.5,1960.7L1557.0,1978.4L1539.8,1995.3L1521.6,2011.6L1503.9,2026.2L1484.0,2041.2L1464.7,2054.6L1443.5,2067.9L1422.9,2079.6L1402.8,2089.9L1381.3,2099.9L1358.3,2109.3L1336.2,2117.3L1312.9,2124.6L1288.8,2131.0L1265.6,2136.2L1243.4,2140.1L1222.1,2143.0L1200.1,2145.2L1177.6,2146.6L1154.8,2147.1L1133.1,2146.7L1111.2,2145.5L1089.3,2143.4L1067.4,2140.6L1044.6,2136.8L1022.2,2132.1L1000.2,2126.7L978.0,2120.4L956.4,2113.5L934.1,2105.4L912.0,2096.5L892.3,2087.9L872.2,2078.3L852.1,2068.0L832.0,2057.0L811.9,2045.3L791.4,2032.6L770.7,2019.1L749.6,2004.6L729.5,1990.2L708.9,1974.9L663.6,1939.6L611.1,1896.8L521.8,1822.4"/>
<path d="M1716.0,1586.5L1715.5,1610.2L1714.0,1633.8L1711.6,1657.3L1708.2,1680.7L1703.8,1703.9L1698.4,1726.7L1692.2,1749.3L1684.9,1771.8L1676.7,1793.7L1667.6,1815.6L1657.5,1837.0L1646.7,1857.8L1634.8,1878.4L1622.2,1898.2L1608.8,1917.5L1594.7,1936.1L1579.7,1954.3L1564.2,1971.5L1547.9,1988.1L1531.0,2004.1L1512.0,2020.5L1493.3,2035.2L1475.1,2048.4L1455.0,2061.7L1435.4,2073.5L1414.3,2085.1L1393.7,2095.2L1371.8,2105.0L1350.7,2113.3L1328.3,2121.1L1305.1,2128.1L1282.7,2133.8L1261.2,2138.4L1240.5,2142.1L1219.2,2145.0L1197.3,2147.2L1175.0,2148.5L1153.8,2149.0L1131.1,2148.7L1109.6,2147.6L1088.0,2145.7L1065.6,2143.0L1043.4,2139.4L1021.7,2135.1L999.6,2129.9L977.3,2123.9L955.8,2117.3L933.7,2109.7L913.9,2102.2L893.7,2093.8L873.4,2084.7L853.1,2075.0L832.7,2064.5L811.9,2053.2L791.1,2041.3L769.6,2028.2L749.4,2015.4L728.1,2001.4L681.5,1969.3L627.5,1930.4L535.6,1862.7"/>
<path d="M1716.0,1586.5L1715.5,1609.6L1714.1,1632.6L1711.8,1655.6L1708.6,1678.4L1704.4,1701.1L1699.3,1723.6L1693.3,1745.7L1686.3,1767.8L1678.6,1789.3L1669.8,1810.8L1660.4,1831.5L1650.0,1852.0L1638.7,1872.3L1626.6,1891.9L1613.8,1911.0L1600.3,1929.4L1585.5,1947.9L1570.2,1965.5L1553.2,1983.4L1537.4,1998.8L1519.6,2014.7L1502.1,2029.1L1484.9,2042.1L1465.9,2055.4L1447.4,2067.2L1427.3,2078.9L1407.8,2089.3L1386.8,2099.4L1364.7,2108.9L1343.4,2117.1L1321.0,2124.6L1299.5,2130.9L1278.8,2136.1L1257.3,2140.6L1236.7,2144.2L1215.5,2147.0L1193.8,2149.2L1173.2,2150.4L1151.0,2151.0L1130.0,2150.8L1108.9,2149.9L1086.8,2148.1L1065.0,2145.6L1043.6,2142.4L1021.7,2138.3L1000.4,2133.6L979.0,2128.2L956.9,2121.8L937.1,2115.4L916.8,2108.3L896.4,2100.4L876.0,2092.0L855.4,2082.8L834.3,2072.8L813.2,2062.2L791.4,2050.6L770.7,2039.1L749.1,2026.6L701.4,1997.7L646.3,1962.8L552.7,1902.1"/>
<path d="M1716.0,1586.5L1715.6,1609.1L1714.2,1631.6L1712.0,1654.0L1708.9,1676.3L1704.9,1698.4L1700.1,1720.4L1694.4,1742.0L1687.8,1763.6L1680.4,1784.7L1672.0,1805.8L1663.0,1826.2L1653.1,1846.3L1642.5,1866.0L1631.0,1885.3L1618.7,1904.2L1605.8,1922.5L1592.3,1940.0L1578.1,1957.1L1562.6,1974.2L1547.8,1989.4L1531.1,2005.2L1514.6,2019.5L1496.3,2034.2L1478.4,2047.5L1458.9,2060.7L1439.9,2072.5L1421.3,2083.1L1401.3,2093.4L1380.2,2103.3L1359.8,2111.9L1338.3,2119.9L1317.6,2126.8L1297.6,2132.6L1276.8,2137.8L1256.8,2142.1L1236.3,2145.7L1215.2,2148.7L1195.1,2150.8L1173.4,2152.3L1152.8,2153.0L1132.1,2153.0L1110.4,2152.3L1088.9,2150.8L1067.7,2148.7L1046.1,2145.7L1024.1,2142.1L1002.9,2137.8L981.0,2132.6L961.2,2127.4L941.0,2121.4L920.5,2114.8L900.1,2107.5L879.3,2099.6L858.6,2091.2L837.3,2081.9L815.1,2071.7L772.2,2050.6L724.0,2025.1L668.0,1994.1L572.9,1940.3"/>
<path d="M1716.0,1586.5L1715.6,1608.4L1714.3,1630.3L1712.2,1652.1L1709.3,1673.9L1705.5,1695.4L1700.9,1716.9L1695.5,1738.0L1689.3,1759.1L1682.3,1779.8L1674.4,1800.4L1665.8,1820.4L1656.4,1840.2L1646.2,1859.5L1635.3,1878.6L1623.8,1896.9L1611.5,1914.9L1598.6,1932.3L1585.2,1949.2L1571.2,1965.3L1555.5,1982.1L1539.8,1997.6L1524.3,2011.7L1507.2,2026.2L1490.3,2039.4L1471.8,2052.7L1453.7,2064.7L1434.3,2076.5L1415.4,2087.0L1395.3,2097.2L1375.7,2106.2L1355.2,2114.7L1335.3,2122.0L1316.0,2128.4L1296.0,2134.2L1276.7,2139.1L1256.8,2143.5L1236.4,2147.2L1216.8,2150.1L1195.8,2152.4L1175.7,2154.0L1155.4,2154.9L1134.2,2155.2L1113.1,2154.8L1092.2,2153.7L1070.9,2151.8L1049.2,2149.3L1028.2,2146.1L1006.4,2142.2L986.8,2138.1L966.6,2133.3L946.7,2128.0L926.2,2122.0L905.4,2115.4L884.6,2108.2L863.1,2100.3L840.8,2091.5L797.5,2073.3L748.9,2051.1L692.2,2024.0L596.1,1976.9"/>
<path d="M1716.0,1586.5L1715.6,1607.9L1714.4,1629.3L1712.4,1650.5L1709.6,1671.7L1706.1,1692.7L1701.7,1713.6L1696.5,1734.4L1690.7,1754.8L1684.0,1775.0L1676.6,1794.9L1668.5,1814.5L1659.5,1833.9L1649.9,1852.9L1639.5,1871.7L1628.6,1889.7L1616.8,1907.6L1604.8,1924.5L1592.2,1940.9L1579.3,1956.5L1564.6,1973.0L1549.9,1988.2L1533.6,2003.8L1517.5,2018.2L1501.5,2031.3L1484.1,2044.6L1467.0,2056.6L1448.6,2068.6L1430.6,2079.4L1411.4,2089.9L1392.8,2099.2L1373.1,2108.2L1352.6,2116.7L1334.2,2123.5L1314.9,2129.9L1296.4,2135.3L1277.2,2140.3L1257.4,2144.7L1237.3,2148.5L1216.9,2151.7L1197.4,2154.0L1177.8,2155.8L1157.1,2156.9L1136.5,2157.4L1116.1,2157.3L1095.2,2156.5L1074.7,2155.1L1054.0,2153.1L1032.5,2150.3L1013.1,2147.3L993.1,2143.6L973.4,2139.5L953.0,2134.7L932.2,2129.3L911.4,2123.4L890.0,2116.9L867.6,2109.6L824.4,2094.2L775.5,2075.4L718.6,2052.2L622.0,2011.8"/>
<path d="M1716.0,1586.5L1715.6,1607.4L1714.5,1628.2L1712.6,1648.9L1710.0,1669.6L1706.6,1690.0L1702.4,1710.4L1697.6,1730.5L1691.9,1750.7L1685.6,1770.4L1678.6,1789.9L1670.8,1809.1L1662.3,1828.2L1653.2,1846.9L1643.4,1865.0L1633.0,1882.9L1621.8,1900.5L1609.8,1918.0L1597.1,1934.9L1585.1,1949.9L1571.4,1965.9L1557.7,1980.6L1542.4,1995.9L1527.3,2010.0L1510.7,2024.3L1494.3,2037.4L1478.2,2049.4L1460.8,2061.4L1443.8,2072.2L1425.6,2082.9L1407.9,2092.5L1389.2,2101.8L1369.6,2110.6L1352.0,2117.9L1333.6,2124.7L1315.7,2130.7L1297.3,2136.3L1278.3,2141.4L1258.9,2145.9L1239.2,2149.7L1220.3,2152.9L1201.2,2155.4L1181.1,2157.5L1161.0,2158.9L1140.3,2159.7L1119.9,2159.9L1099.9,2159.5L1079.6,2158.5L1058.5,2156.8L1039.4,2154.8L1019.7,2152.3L1000.3,2149.3L980.1,2145.7L959.6,2141.6L938.9,2136.9L917.7,2131.7L895.8,2125.9L852.7,2113.4L804.1,2097.8L747.3,2078.5L650.8,2044.7"/>
<path d="M1716.0,1586.5L1715.6,1606.7L1714.6,1626.8L1712.8,1647.0L1710.3,1667.0L1707.2,1686.8L1703.3,1706.6L1698.7,1726.4L1693.4,1745.8L1687.5,1765.0L1680.8,1784.0L1673.5,1802.8L1665.5,1821.4L1656.9,1839.7L1647.6,1857.6L1637.8,1875.0L1627.3,1892.3L1616.6,1908.5L1605.1,1924.7L1592.3,1941.4L1579.5,1956.9L1566.8,1971.3L1552.5,1986.3L1538.3,2000.3L1522.7,2014.5L1507.3,2027.6L1490.6,2040.8L1474.2,2052.8L1458.1,2063.8L1440.9,2074.7L1424.0,2084.5L1406.2,2094.2L1387.6,2103.4L1370.7,2111.1L1353.1,2118.4L1334.8,2125.4L1317.1,2131.4L1298.9,2137.1L1280.2,2142.2L1261.2,2146.8L1243.0,2150.6L1224.6,2153.9L1205.1,2156.8L1185.6,2159.0L1166.3,2160.7L1146.4,2161.9L1126.8,2162.5L1106.9,2162.5L1086.3,2162.0L1067.5,2161.0L1048.1,2159.6L1029.0,2157.6L1009.1,2155.2L988.8,2152.3L968.4,2148.9L925.6,2140.5L883.0,2130.8L834.6,2118.3L778.1,2102.8L682.2,2075.6"/>
<path d="M1716.0,1586.5L1715.7,1606.2L1714.7,1625.8L1713.0,1645.4L1710.6,1664.8L1707.7,1684.0L1704.0,1703.2L1699.7,1722.5L1694.7,1741.3L1689.1,1760.1L1682.8,1778.6L1675.9,1797.0L1668.5,1814.9L1660.3,1832.9L1651.6,1850.3L1642.2,1867.5L1632.4,1884.3L1622.1,1900.5L1611.0,1916.8L1599.1,1932.9L1587.3,1947.9L1575.4,1962.0L1562.1,1976.7L1548.8,1990.4L1534.2,2004.6L1519.7,2017.6L1504.0,2030.8L1488.5,2042.9L1473.3,2054.0L1457.0,2065.2L1439.7,2076.1L1422.8,2086.0L1405.1,2095.5L1389.1,2103.5L1372.3,2111.3L1354.8,2118.7L1337.9,2125.3L1320.4,2131.5L1302.5,2137.3L1284.2,2142.5L1266.6,2147.0L1248.8,2151.0L1230.0,2154.7L1211.2,2157.8L1192.4,2160.4L1173.1,2162.5L1154.0,2164.0L1134.6,2165.0L1114.4,2165.5L1096.1,2165.5L1077.1,2165.1L1058.3,2164.3L1038.8,2163.0L999.1,2159.1L956.8,2153.3L914.7,2146.1L866.7,2136.8L810.7,2124.9L716.0,2104.0"/>
<path d="M1716.0,1586.5L1715.7,1605.5L1714.7,1624.4L1713.2,1643.3L1711.0,1662.2L1708.2,1681.0L1704.7,1699.7L1700.7,1718.3L1696.0,1736.6L1690.7,1754.9L1684.9,1772.9L1678.4,1790.8L1671.3,1808.3L1663.8,1825.6L1655.5,1842.7L1646.8,1859.5L1637.5,1876.0L1627.3,1892.7L1616.6,1908.9L1605.6,1924.4L1594.6,1939.0L1582.2,1954.3L1569.8,1968.6L1557.4,1982.0L1543.8,1995.8L1530.2,2008.6L1515.5,2021.7L1501.0,2033.8L1486.6,2044.9L1471.3,2056.1L1455.0,2067.1L1439.0,2077.2L1422.2,2087.0L1407.0,2095.4L1391.0,2103.5L1374.4,2111.3L1358.2,2118.3L1341.5,2125.0L1324.4,2131.3L1306.9,2137.2L1290.0,2142.3L1272.0,2147.2L1253.9,2151.6L1235.8,2155.4L1217.7,2158.8L1199.1,2161.7L1180.6,2164.1L1161.9,2166.0L1142.3,2167.5L1124.4,2168.4L1106.0,2169.0L1068.6,2168.9L1029.9,2167.2L988.8,2163.9L947.4,2159.4L900.3,2153.1L845.2,2144.8L752.1,2130.0"/>
<path d="M1716.0,1586.5L1715.7,1604.9L1714.8,1623.3L1713.4,1641.6L1711.3,1659.8L1708.7,1678.0L1705.5,1696.1L1701.6,1714.1L1697.3,1731.9L1692.3,1749.6L1686.8,1767.2L1680.7,1784.6L1674.1,1801.7L1667.0,1818.6L1659.3,1835.2L1651.0,1851.7L1642.2,1867.9L1633.0,1883.6L1623.3,1899.1L1613.1,1914.2L1601.6,1930.1L1590.1,1944.9L1578.6,1958.9L1567.1,1972.0L1554.3,1985.6L1541.7,1998.2L1527.9,2011.2L1514.3,2023.2L1499.6,2035.4L1485.1,2046.5L1469.8,2057.7L1454.7,2067.9L1438.9,2078.0L1423.4,2087.1L1408.3,2095.5L1392.5,2103.6L1377.2,2111.0L1361.4,2118.1L1345.1,2124.8L1328.4,2131.1L1312.3,2136.8L1296.0,2142.0L1278.6,2147.1L1261.2,2151.6L1243.8,2155.7L1225.8,2159.4L1208.0,2162.6L1189.9,2165.4L1171.0,2167.8L1135.8,2171.1L1099.5,2173.0L1061.7,2173.4L1021.6,2172.5L981.1,2170.4L935.2,2167.0L881.3,2162.1L790.2,2153.2"/>
<path d="M1716.0,1586.5L1715.7,1604.3L1714.9,1622.1L1713.5,1639.9L1711.6,1657.6L1709.1,1675.2L1706.1,1692.6L1702.5,1710.2L1698.5,1727.4L1693.8,1744.6L1688.6,1761.7L1682.9,1778.7L1676.7,1795.3L1670.0,1811.7L1662.7,1828.1L1655.1,1843.9L1646.8,1859.7L1638.4,1874.8L1629.5,1889.4L1620.2,1904.0L1609.6,1919.4L1598.9,1933.9L1588.2,1947.6L1576.3,1961.8L1564.5,1975.2L1552.7,1987.6L1539.8,2000.4L1527.0,2012.4L1513.3,2024.5L1499.8,2035.7L1485.3,2047.0L1470.1,2058.1L1455.2,2068.3L1440.6,2077.6L1426.3,2086.2L1411.4,2094.6L1396.9,2102.3L1381.9,2109.8L1366.4,2116.9L1350.6,2123.8L1335.2,2129.9L1319.6,2135.6L1303.1,2141.3L1286.4,2146.5L1269.8,2151.2L1252.5,2155.7L1235.5,2159.6L1218.0,2163.2L1199.8,2166.5L1166.3,2171.4L1131.1,2175.2L1094.5,2177.7L1055.4,2179.0L1016.2,2179.3L971.4,2178.6L918.9,2176.9L830.1,2173.5"/>
<path d="M1716.0,1586.5L1715.7,1603.7L1715.0,1620.8L1713.7,1638.0L1711.9,1655.0L1709.6,1672.0L1706.8,1688.9L1703.5,1705.8L1699.7,1722.5L1695.4,1739.1L1690.5,1755.6L1685.3,1771.8L1679.5,1788.0L1673.2,1804.1L1666.5,1819.8L1659.4,1835.3L1651.6,1850.7L1643.2,1866.5L1634.4,1881.7L1625.8,1895.6L1616.0,1910.5L1606.1,1924.5L1596.2,1937.7L1585.2,1951.6L1574.2,1964.6L1562.1,1978.0L1550.2,1990.6L1538.3,2002.3L1525.5,2014.3L1512.8,2025.4L1499.3,2036.6L1486.1,2047.0L1472.0,2057.3L1458.3,2066.9L1444.9,2075.7L1430.8,2084.4L1417.1,2092.3L1402.9,2100.1L1388.3,2107.7L1373.2,2115.0L1357.9,2121.9L1343.1,2128.1L1327.3,2134.3L1311.5,2140.1L1295.6,2145.4L1279.1,2150.5L1262.8,2155.1L1246.1,2159.4L1228.6,2163.5L1196.0,2170.1L1162.6,2175.5L1127.3,2179.8L1089.5,2183.3L1051.6,2185.7L1008.2,2187.6L957.3,2189.0L871.6,2190.9"/>
<path d="M1716.0,1586.5L1715.8,1603.0L1715.0,1619.6L1713.9,1636.1L1712.2,1652.6L1710.1,1669.0L1707.5,1685.3L1704.4,1701.6L1700.8,1717.7L1696.8,1733.8L1692.3,1749.8L1687.4,1765.5L1682.0,1781.2L1676.2,1796.7L1670.0,1811.9L1663.4,1826.9L1656.1,1842.0L1648.4,1857.0L1640.1,1872.1L1632.1,1885.5L1623.1,1899.9L1614.0,1913.5L1604.9,1926.4L1594.7,1939.9L1584.5,1952.6L1573.4,1965.8L1562.3,1978.2L1551.2,1989.8L1539.3,2001.7L1527.5,2012.9L1514.9,2024.1L1501.5,2035.4L1488.4,2045.8L1475.5,2055.4L1462.9,2064.4L1436.9,2081.5L1409.6,2097.5L1395.4,2105.1L1380.9,2112.5L1351.2,2126.1L1321.2,2138.2L1290.0,2149.1L1257.9,2158.8L1226.7,2166.8L1194.7,2173.7L1160.7,2179.9L1124.4,2185.3L1087.9,2189.8L1046.2,2194.1L997.2,2198.4L914.4,2205.1"/>
<path d="M1716.0,1586.5L1715.8,1602.4L1715.1,1618.3L1714.0,1634.1L1712.5,1650.0L1710.5,1665.8L1708.1,1681.5L1705.2,1697.2L1702.0,1712.8L1698.3,1728.3L1694.1,1743.7L1689.6,1758.9L1684.6,1774.1L1679.2,1789.1L1673.4,1803.8L1667.2,1818.4L1660.5,1833.1L1653.5,1847.3L1646.4,1860.9L1638.2,1875.5L1629.9,1889.3L1621.6,1902.4L1612.3,1916.3L1602.9,1929.4L1593.5,1941.7L1583.2,1954.6L1572.9,1966.7L1562.7,1978.1L1551.6,1989.8L1540.7,2000.8L1528.9,2012.0L1516.5,2023.2L1504.3,2033.7L1480.5,2052.5L1456.1,2069.9L1430.5,2086.3L1403.5,2102.0L1375.5,2116.4L1347.1,2129.5L1317.5,2141.5L1287.1,2152.4L1257.4,2161.7L1226.8,2170.1L1194.3,2177.8L1159.9,2185.0L1124.8,2191.4L1084.7,2197.9L1037.7,2204.9L958.4,2216.1"/>
<path d="M1716.0,1586.5L1715.8,1601.8L1715.2,1617.1L1714.2,1632.3L1712.8,1647.5L1710.9,1662.7L1708.7,1677.7L1706.1,1692.9L1703.1,1707.8L1699.7,1722.7L1695.9,1737.4L1691.7,1752.0L1687.1,1766.7L1682.1,1781.2L1676.8,1795.4L1671.0,1809.6L1664.8,1823.8L1658.0,1838.5L1651.5,1851.5L1644.0,1865.4L1636.4,1878.7L1628.8,1891.4L1620.2,1904.8L1603.0,1929.5L1593.5,1942.0L1584.0,1953.9L1573.7,1966.1L1563.5,1977.6L1542.5,1999.5L1531.0,2010.6L1519.6,2021.0L1497.5,2039.8L1474.0,2058.0L1450.2,2074.7L1424.9,2090.8L1398.7,2105.8L1372.0,2119.6L1344.2,2132.5L1315.4,2144.5L1287.4,2154.9L1258.4,2164.6L1227.6,2173.7L1194.9,2182.5L1161.5,2190.6L1123.5,2199.1L1003.3,2223.8"/>
<path d="M1716.0,1586.5L1715.3,1615.8L1713.0,1645.0L1709.3,1674.0L1704.1,1702.8L1697.5,1731.3L1689.4,1759.5L1679.9,1787.3L1669.0,1814.4L1657.1,1840.5L1643.4,1866.7L1628.6,1891.9L1612.0,1917.1L1594.6,1940.9L1575.7,1964.1L1556.4,1985.7L1535.2,2007.1L1514.8,2025.9L1492.9,2044.3L1470.7,2061.3L1447.1,2077.8L1422.6,2093.4L1397.6,2107.9L1371.4,2121.6L1344.4,2134.6L1317.9,2146.0L1290.6,2156.8L1261.8,2167.2L1230.7,2177.5L1199.0,2187.2L1162.9,2197.5L1048.8,2228.1"/>
<path d="M1716.0,1586.5L1715.3,1614.5L1713.3,1642.4L1709.9,1670.2L1705.1,1697.8L1699.1,1725.2L1691.6,1752.3L1682.9,1778.9L1672.9,1805.2L1661.6,1831.0L1649.2,1856.0L1635.7,1880.2L1620.6,1904.5L1604.7,1927.6L1587.5,1950.3L1569.0,1972.3L1549.6,1993.3L1530.7,2012.0L1510.5,2030.3L1490.0,2047.4L1468.1,2064.1L1445.4,2080.1L1422.1,2095.1L1397.7,2109.5L1372.4,2123.2L1347.7,2135.5L1322.0,2147.3L1295.0,2158.8L1265.7,2170.3L1236.1,2181.3L1202.1,2193.2L1094.7,2229.0"/>
<path d="M1716.0,1586.5L1715.4,1613.2L1713.5,1639.8L1710.4,1666.3L1706.1,1692.7L1700.6,1718.8L1693.9,1744.8L1685.9,1770.5L1676.8,1795.6L1666.6,1820.1L1654.8,1845.3L1642.6,1868.5L1628.9,1891.8L1614.4,1914.1L1598.7,1936.2L1581.8,1957.6L1564.0,1978.3L1546.7,1996.8L1528.2,2015.0L1509.3,2032.2L1489.1,2049.1L1468.0,2065.4L1446.4,2080.8L1423.8,2095.7L1400.3,2110.0L1377.2,2123.1L1353.3,2135.6L1328.0,2148.1L1300.7,2160.7L1273.0,2172.8L1241.1,2186.1L1140.6,2226.4"/>
<path d="M1716.0,1586.5L1715.4,1611.9L1713.8,1637.2L1711.0,1662.5L1707.1,1687.7L1702.0,1712.6L1696.0,1737.3L1688.7,1761.9L1680.5,1785.9L1671.3,1809.2L1660.7,1833.3L1649.7,1855.4L1637.3,1877.9L1623.6,1900.4L1609.4,1921.7L1594.0,1942.6L1577.8,1962.8L1562.1,1981.0L1545.1,1999.0L1527.3,2016.6L1508.8,2033.5L1489.5,2049.8L1469.7,2065.5L1448.8,2080.7L1427.2,2095.5L1406.2,2108.8L1384.0,2122.1L1360.6,2135.3L1335.2,2148.8L1309.4,2161.9L1279.9,2176.3L1186.5,2220.4"/>
<path d="M1716.0,1586.5L1715.5,1610.6L1714.0,1634.6L1711.5,1658.6L1708.0,1682.5L1703.4,1706.3L1697.9,1729.7L1691.5,1753.0L1684.0,1776.1L1675.8,1798.4L1666.2,1821.2L1655.9,1843.4L1644.7,1864.9L1632.4,1886.5L1619.6,1907.0L1605.7,1927.2L1591.1,1946.9L1576.8,1964.7L1561.4,1982.4L1545.2,1999.7L1528.4,2016.5L1510.7,2032.9L1492.6,2048.6L1473.5,2064.0L1453.6,2079.1L1434.4,2092.9L1414.0,2106.6L1392.4,2120.5L1369.0,2134.7L1345.2,2148.6L1317.9,2163.9L1231.9,2210.9"/>
<path d="M1716.0,1586.5L1715.5,1609.3L1714.2,1632.0L1711.9,1654.7L1708.8,1677.4L1704.8,1699.9L1699.9,1722.1L1694.0,1744.3L1687.4,1766.1L1679.9,1787.5L1671.5,1809.2L1662.2,1830.3L1652.3,1850.8L1641.3,1871.4L1629.8,1891.2L1617.3,1910.7L1604.2,1929.8L1591.3,1947.1L1577.4,1964.5L1562.8,1981.6L1547.5,1998.2L1531.5,2014.5L1515.0,2030.2L1497.7,2045.8L1479.6,2061.1L1462.0,2075.1L1443.3,2089.2L1423.6,2103.4L1402.1,2118.2L1355.4,2148.7L1276.5,2198.1"/>
<path d="M1716.0,1586.5L1715.6,1608.0L1714.4,1629.4L1712.4,1650.8L1709.6,1672.2L1706.0,1693.5L1701.6,1714.5L1696.5,1735.5L1690.5,1756.2L1683.9,1776.7L1676.4,1797.1L1668.2,1817.0L1659.4,1836.5L1649.6,1856.2L1639.4,1875.1L1628.3,1893.9L1616.1,1912.9L1604.6,1929.6L1592.2,1946.5L1579.1,1963.1L1565.4,1979.4L1551.0,1995.4L1536.2,2011.0L1520.6,2026.5L1504.2,2041.8L1488.3,2055.9L1471.5,2070.1L1453.6,2084.6L1434.1,2099.7L1391.8,2131.0L1320.3,2182.0"/>
<path d="M1716.0,1586.5L1715.6,1606.6L1714.6,1626.8L1712.8,1646.8L1710.4,1666.9L1707.2,1686.7L1703.4,1706.5L1698.8,1726.3L1693.6,1745.8L1687.9,1764.7L1681.3,1783.9L1674.2,1802.8L1666.0,1822.1L1657.4,1840.8L1648.4,1858.8L1638.6,1876.7L1627.9,1895.0L1617.3,1911.6L1606.3,1927.8L1595.0,1943.5L1582.8,1959.3L1570.0,1975.0L1556.7,1990.3L1542.7,2005.6L1528.1,2020.8L1513.8,2034.9L1498.7,2049.1L1482.7,2063.7L1465.3,2078.8L1427.2,2110.6L1362.8,2162.6"/>
<path d="M1716.0,1586.5L1715.7,1605.4L1714.8,1624.3L1713.2,1643.0L1711.1,1661.8L1708.3,1680.6L1704.9,1699.2L1700.9,1717.6L1696.3,1736.1L1691.0,1754.8L1685.3,1772.7L1679.0,1790.3L1672.0,1808.4L1664.4,1826.0L1656.5,1842.9L1648.0,1859.9L1638.5,1877.2L1629.3,1893.1L1619.6,1908.6L1609.4,1924.1L1598.7,1939.3L1587.4,1954.4L1575.7,1969.3L1563.4,1984.1L1550.4,1999.0L1524.4,2026.8L1494.8,2056.3L1461.1,2088.0L1403.9,2140.0"/>
<path d="M1716.0,1586.5L1715.7,1604.0L1714.9,1621.6L1713.6,1639.0L1711.7,1656.5L1709.3,1674.0L1706.4,1691.3L1703.0,1708.5L1699.0,1725.8L1694.5,1742.9L1689.6,1759.6L1684.2,1776.0L1678.1,1793.0L1671.6,1809.5L1664.5,1826.1L1657.1,1842.1L1648.9,1858.5L1640.8,1873.5L1632.5,1888.3L1623.5,1903.1L1614.2,1917.7L1604.3,1932.2L1594.1,1946.5L1583.4,1961.0L1572.0,1975.4L1549.2,2002.6L1523.2,2031.6L1493.5,2062.9L1443.3,2114.4"/>
<path d="M1716.0,1586.5L1715.8,1602.7L1715.1,1618.9L1714.0,1635.0L1712.4,1651.1L1710.4,1667.1L1707.9,1683.2L1704.9,1699.1L1701.6,1715.0L1697.7,1731.0L1693.5,1746.4L1688.9,1761.7L1683.7,1777.5L1678.2,1792.9L1672.1,1808.4L1665.8,1823.4L1658.8,1838.9L1644.7,1867.1L1628.9,1895.0L1611.6,1922.6L1592.5,1950.3L1572.8,1976.7L1550.2,2004.9L1524.4,2035.5L1480.8,2085.8"/>
<path d="M1716.0,1586.5L1715.2,1616.1L1712.9,1645.8L1709.1,1675.3L1703.8,1704.6L1696.9,1734.0L1688.7,1762.6L1678.9,1791.2L1667.7,1819.4L1655.7,1845.8L1642.4,1872.0L1627.7,1898.0L1611.4,1924.4L1594.6,1949.5L1575.4,1976.6L1553.3,2006.0L1516.2,2054.5"/>
<path d="M1716.0,1586.5L1715.4,1613.5L1713.5,1640.5L1710.3,1667.4L1705.9,1694.2L1700.2,1720.9L1693.3,1747.5L1685.2,1773.7L1675.8,1799.7L1665.9,1824.0L1654.8,1848.3L1642.6,1872.6L1629.0,1897.3L1614.9,1921.0L1598.8,1946.5L1580.4,1974.4L1549.2,2020.6"/>
<path d="M1716.0,1586.5L1715.5,1610.8L1714.0,1635.1L1711.4,1659.3L1707.8,1683.6L1703.2,1707.7L1697.6,1731.8L1691.0,1755.5L1683.4,1779.2L1675.3,1801.4L1666.3,1823.8L1656.3,1846.2L1645.1,1869.1L1633.6,1891.2L1620.4,1914.9L1579.6,1984.3"/>
<path d="M1716.0,1586.5L1715.6,1608.1L1714.4,1629.7L1712.4,1651.4L1709.5,1672.9L1705.9,1694.5L1701.4,1716.0L1696.2,1737.2L1690.2,1758.5L1683.8,1778.5L1676.6,1798.8L1668.6,1819.1L1659.7,1840.0L1650.5,1860.2L1640.0,1882.0L1607.4,1945.9"/>
<path d="M1716.0,1586.5L1715.7,1605.4L1714.8,1624.3L1713.2,1643.2L1711.1,1662.1L1708.3,1680.7L1704.9,1699.7L1700.8,1718.8L1696.2,1737.6L1691.3,1755.3L1685.7,1773.3L1679.6,1791.4L1672.8,1810.1L1657.5,1847.8L1632.3,1905.4"/>
<path d="M1716.0,1586.5L1715.8,1602.7L1715.1,1618.9L1713.9,1635.2L1712.4,1651.4L1710.3,1667.5L1707.8,1683.8L1704.8,1700.2L1701.4,1716.4L1693.7,1747.4L1684.1,1779.5L1672.8,1812.5L1654.1,1863.1"/>
<path d="M1716.0,1586.5L1715.4,1613.6L1713.5,1640.7L1710.3,1667.8L1705.9,1695.1L1700.5,1721.3L1693.8,1748.4L1685.9,1776.4L1672.8,1819.3"/>
<path d="M1716.0,1586.5L1715.6,1608.1L1714.4,1629.9L1712.3,1651.7L1709.5,1673.6L1706.0,1694.7L1701.7,1716.6L1696.7,1739.3L1688.3,1774.2"/>
<path d="M1716.0,1586.5L1715.8,1602.7L1715.1,1619.0L1714.0,1635.3L1712.4,1651.8L1708.0,1684.3L1700.4,1728.0"/>
<path d="M1716.0,1586.5L1715.6,1608.1L1714.4,1630.1L1712.4,1651.8L1709.1,1681.1"/>
<path d="M1716.0,1586.5L1715.6,1608.2L1714.3,1633.6"/>
</g>
<g stroke="#262626" stroke-opacity="0.15" stroke-width="3.0" fill="none">
<line x1="333" y1="203.5" x2="333" y2="2278"/>
<line x1="333" y1="2278" x2="2407.5" y2="2278"/>
<line x1="678.75" y1="203.5" x2="678.75" y2="2278"/>
<line x1="333" y1="1932.25" x2="2407.5" y2="1932.25"/>
<line x1="1024.5" y1="203.5" x2="1024.5" y2="2278"/>
<line x1="333" y1="1586.5" x2="2407.5" y2="1586.5"/>
<line x1="1370.25" y1="203.5" x2="1370.25" y2="2278"/>
<line x1="333" y1="1240.75" x2="2407.5" y2="1240.75"/>
<line x1="1716" y1="203.5" x2="1716" y2="2278"/>
<line x1="333" y1="895" x2="2407.5" y2="895"/>
<line x1="2061.75" y1="203.5" x2="2061.75" y2="2278"/>
<line x1="333" y1="549.25" x2="2407.5" y2="549.25"/>
<line x1="2407.5" y1="203.5" x2="2407.5" y2="2278"/>
<line x1="333" y1="203.5" x2="2407.5" y2="203.5"/>
</g>
<path d="M1535.3,1542.8L1528.8,1531.8L1521.6,1518.9L1494.6,1466.6L1480.5,1440.5L1465.9,1415.2L1451.7,1392.5L1443.1,1379.6L1434.2,1366.9L1425.1,1354.5L1415.7,1342.4L1406.0,1330.6L1396.1,1319.0L1385.9,1307.7L1375.4,1296.7L1363.1,1284.6L1352.1,1274.3L1339.2,1262.9L1327.6,1253.3L1314.1,1242.8L1302.0,1233.9L1288.0,1224.2L1275.4,1216.1L1260.8,1207.3L1247.9,1200.0L1232.8,1192.2L1219.5,1185.7L1204.0,1178.8L1190.3,1173.2L1176.4,1167.9L1162.4,1163.1L1146.3,1158.1L1130.0,1153.7L1113.6,1149.8L1099.2,1146.8L1082.6,1143.9L1065.9,1141.6L1049.1,1139.8L1034.4,1138.8L1017.6,1138.1L1000.8,1137.9L984.0,1138.4L969.3,1139.2L952.5,1140.7L937.9,1142.4L921.2,1145.0L906.7,1147.7L890.3,1151.2L874.0,1155.4L857.8,1160.1L843.7,1164.6L827.9,1170.3L814.1,1175.7L798.6,1182.4L785.2,1188.7L770.2,1196.4L755.4,1204.5L740.8,1213.2L728.3,1221.2L714.3,1230.8L702.4,1239.6L689.0,1250.0L677.6,1259.5L664.8,1270.8L652.5,1282.6L640.5,1294.7L630.4,1305.7L619.2,1318.6L608.4,1331.9L598.0,1345.5L589.4,1357.7L579.9,1372.0L570.8,1386.7L562.3,1401.6L555.2,1414.9L547.6,1430.4L541.3,1444.1L534.7,1460.1L529.2,1474.3L523.6,1490.6L518.4,1507.2L513.8,1524.0L510.2,1538.8L506.7,1555.9L504.0,1570.9L501.5,1588.2L499.7,1603.5L498.3,1620.9L497.4,1638.5L497.1,1656.1L497.3,1671.5L498.0,1689.1L499.2,1704.6L501.0,1722.2L503.1,1737.5L505.6,1752.9L509.7,1774.4L513.4,1791.4L517.1,1806.2L521.9,1823.0L526.6,1837.6L532.4,1854.2L537.9,1868.5L544.7,1884.8L552.1,1900.8L559.9,1916.7L567.3,1930.4L576.1,1945.8L584.2,1959.0L594.0,1974.0L603.0,1986.8L613.6,2001.1L624.8,2015.2L636.4,2028.9L647.0,2040.6L659.4,2053.7L670.7,2064.8L683.9,2077.1L695.8,2087.6L709.8,2099.2L724.2,2110.3L739.0,2121.1L752.2,2130.1L767.6,2139.9L781.4,2148.2L797.4,2157.2L811.7,2164.6L830.3,2173.7L847.2,2181.2L864.3,2188.1L881.7,2194.6L901.5,2201.2L919.4,2206.5L937.4,2211.3L955.5,2215.5L976.2,2219.5L994.7,2222.6L1013.3,2225.0L1031.9,2226.9L1050.7,2228.2L1069.5,2228.9L1088.4,2229.0L1107.3,2228.6L1128.6,2227.4L1147.4,2225.7L1166.3,2223.5L1185.1,2220.6L1203.8,2217.2L1222.4,2213.2L1241.0,2208.6L1259.4,2203.5L1277.6,2197.8L1295.7,2191.5L1313.6,2184.7L1331.4,2177.3L1348.9,2169.4L1366.1,2160.9L1383.2,2151.9L1399.9,2142.3L1416.4,2132.3L1432.6,2121.7L1448.5,2110.7L1464.0,2099.2L1479.2,2087.1L1494.0,2074.7L1508.5,2061.7L1522.6,2048.3L1536.2,2034.5L1549.5,2020.3L1562.3,2005.6L1574.7,1990.6L1586.6,1975.2L1598.1,1959.4L1609.1,1943.3L1619.6,1926.8L1629.6,1910.0L1639.1,1892.9L1648.1,1875.6L1656.5,1857.9L1664.5,1840.0L1671.8,1821.9L1678.7,1803.5L1684.9,1784.9L1690.6,1766.2L1695.8,1747.3L1700.4,1728.2L1704.3,1709.0L1707.8,1689.7L1710.6,1670.2L1712.8,1650.7L1714.3,1633.6" fill="none" stroke="#00ff00" stroke-width="9.5" stroke-linejoin="round"/>
<path d="M1716.0,1586.5L1715.5,1608.8L1713.7,1632.0L1711.0,1654.1L1707.0,1677.0L1702.1,1698.6L1695.9,1721.0L1688.6,1743.0L1680.2,1764.5L1671.1,1784.6L1660.7,1805.1L1649.2,1825.0L1636.8,1844.2L1623.4,1862.7L1609.2,1880.4L1594.1,1897.3L1578.3,1913.4L1561.7,1928.5L1544.5,1942.7L1526.6,1956.0L1517.4,1962.2L1507.3,1968.7L1488.3,1979.8L1468.9,1989.9L1449.1,1998.9L1439.1,2003.0L1428.1,2007.1L1407.7,2013.8L1397.5,2016.7L1386.2,2019.6L1375.9,2022.0L1364.6,2024.2L1354.3,2026.0L1342.9,2027.5L1332.6,2028.7L1321.3,2029.6L1311.0,2030.2L1299.7,2030.5L1289.5,2030.5L1278.3,2030.2L1268.2,2029.6L1257.1,2028.6L1239.9,2026.4L1222.9,2023.5L1206.2,2019.7L1188.9,2014.9L1172.9,2009.7L1156.5,2003.3L1141.3,1996.6L1125.9,1988.7L1111.7,1980.6L1097.4,1971.4L1083.7,1961.6L1070.6,1951.1L1058.3,1940.1L1046.6,1928.5L1035.7,1916.4L1025.0,1903.2L1015.7,1890.2L1006.8,1876.2L999.1,1862.5L992.0,1847.8L985.7,1832.8L980.5,1817.7L976.1,1802.3L972.8,1786.9L970.3,1771.5L968.9,1756.0L968.4,1740.6L968.9,1724.6L970.3,1709.4L972.8,1693.8L976.1,1679.2L980.6,1664.2L985.4,1650.9L991.4,1637.3L998.2,1624.2L1005.7,1611.6L1013.7,1600.1L1022.8,1588.5L1032.6,1577.6L1043.1,1567.3L1054.2,1557.7L1066.0,1548.8L1078.3,1540.7L1090.6,1533.6L1104.0,1527.0L1117.9,1521.2L1132.3,1516.2L1146.4,1512.2L1160.9,1509.0L1174.9,1506.7L1189.2,1505.2L1203.9,1504.4L1218.8,1504.3L1233.9,1505.0L1249.4,1506.4L1265.1,1508.6L1279.4,1511.3L1295.0,1514.7L1310.9,1518.9L1327.2,1523.8L1342.3,1528.8L1359.0,1534.7L1414.8,1555.8" fill="none" stroke="#ff6a26" stroke-width="9.5" stroke-linejoin="round"/>
<path d="M1716.0,1586.5L1715.6,1608.2L1714.3,1633.6" fill="none" stroke="#b84dff" stroke-width="9.5" stroke-linejoin="round"/>
<path d="M1414.8,1555.8L1410.7,1555.2L1407.8,1554.6L1406.4,1553.8L1406.2,1553.4L1406.4,1553.1L1407.9,1552.3L1410.7,1551.6L1420.4,1550.2L1449.0,1547.9L1535.3,1542.8" fill="none" stroke="#00ffff" stroke-width="9.5" stroke-linejoin="round"/>
<path d="M1024.4,1597.2L1026.6,1597.2L1028.8,1597.3L1030.9,1597.3L1033.1,1597.4L1035.2,1597.5L1037.3,1597.7L1039.4,1597.9L1041.6,1598.1L1043.7,1598.4L1045.8,1598.7L1047.9,1599.1L1050.0,1599.4L1052.1,1599.8L1054.2,1600.3L1056.2,1600.8L1058.3,1601.3L1060.3,1601.9L1062.4,1602.5L1064.4,1603.1L1066.4,1603.8L1068.4,1604.5L1070.4,1605.2L1072.4,1606.0L1074.3,1606.9L1076.3,1607.7L1078.2,1608.6L1080.1,1609.5L1082.0,1610.5L1083.8,1611.5L1085.7,1612.6L1087.5,1613.7L1089.3,1614.8L1091.0,1616.0L1092.7,1617.2L1094.4,1618.4L1096.1,1619.7L1097.8,1621.0L1099.4,1622.4L1101.0,1623.7L1102.6,1625.1L1104.1,1626.6L1105.6,1628.1L1107.1,1629.6L1108.5,1631.1L1109.9,1632.7L1111.3,1634.2L1112.6,1635.9L1113.9,1637.5L1115.2,1639.2L1116.4,1640.9L1117.6,1642.6L1118.7,1644.4L1119.8,1646.2L1120.9,1648.0L1121.9,1649.8L1122.9,1651.6L1123.8,1653.5L1124.7,1655.4L1125.6,1657.3L1126.4,1659.2L1127.1,1661.2L1127.9,1663.1L1128.5,1665.1L1129.2,1667.1L1129.8,1669.1L1130.3,1671.1L1130.8,1673.2L1131.2,1675.2L1131.6,1677.2L1131.9,1679.3L1132.2,1681.4L1132.5,1683.4L1132.7,1685.5L1132.8,1687.6L1132.9,1689.7L1133.0,1691.8L1133.0,1693.8L1132.9,1695.9L1132.8,1698.0L1132.7,1700.1L1132.5,1702.2L1132.2,1704.2L1132.0,1706.3L1131.6,1708.3L1131.2,1710.4L1130.8,1712.4L1130.3,1714.5L1129.8,1716.5L1129.3,1718.5L1128.6,1720.5L1128.0,1722.4L1127.3,1724.4L1126.5,1726.3L1125.7,1728.3L1124.9,1730.2L1124.0,1732.1L1123.1,1733.9L1122.2,1735.8L1121.1,1737.6L1120.1,1739.4L1118.9,1741.2L1117.8,1742.9L1116.6,1744.6L1115.3,1746.3L1114.1,1747.9L1112.8,1749.5L1111.4,1751.1L1110.1,1752.7L1108.6,1754.2L1107.2,1755.7L1105.7,1757.2L1104.2,1758.6L1102.7,1760.1L1101.1,1761.4L1099.6,1762.8L1097.9,1764.1L1096.3,1765.4L1094.6,1766.6L1092.9,1767.8L1091.2,1769.0L1089.5,1770.1L1087.7,1771.2L1085.9,1772.3L1084.1,1773.3L1082.3,1774.3L1080.4,1775.3L1078.6,1776.2L1076.7,1777.1L1074.8,1778.0L1072.9,1778.8L1070.9,1779.6L1069.0,1780.3L1067.0,1781.0L1065.1,1781.7L1063.1,1782.4L1061.1,1783.0L1059.1,1783.7L1057.1,1784.3L1055.1,1784.9L1053.1,1785.4L1051.1,1785.9L1049.0,1786.4L1047.0,1786.8L1044.9,1787.2L1042.8,1787.6L1040.7,1787.9L1038.6,1788.2L1036.6,1788.4L1034.5,1788.7L1032.3,1788.9L1030.2,1789.0L1028.1,1789.2L1026.0,1789.2L1023.9,1789.3L1021.8,1789.3L1019.6,1789.3L1017.5,1789.3L1015.4,1789.2L1013.2,1789.1L1011.1,1789.0L1009.0,1788.8L1006.8,1788.6L1004.7,1788.4L1002.6,1788.1L1000.5,1787.9L998.3,1787.6L996.2,1787.2L994.1,1786.9L992.0,1786.5L989.8,1786.1L987.7,1785.7L985.6,1785.2L983.5,1784.7L981.4,1784.2L979.3,1783.6L977.2,1783.1L975.1,1782.5L973.0,1781.8L971.0,1781.2L968.9,1780.5L966.8,1779.8L964.8,1779.1L962.7,1778.3L960.7,1777.6L958.6,1776.8L956.6,1775.9L954.6,1775.1L952.6,1774.2L950.6,1773.3L948.6,1772.4L946.6,1771.5L944.6,1770.5L942.6,1769.6L940.7,1768.6L938.7,1767.5L936.7,1766.5L934.8,1765.5L932.9,1764.4L930.9,1763.3L929.0,1762.2L927.1,1761.0L925.2,1759.9L923.3,1758.7L921.5,1757.5L919.6,1756.3L917.7,1755.1L915.9,1753.9L914.0,1752.6L912.2,1751.4L910.4,1750.1L908.5,1748.8L906.7,1747.5L904.9,1746.1L903.2,1744.8L901.4,1743.4L899.6,1742.1L897.8,1740.7L896.1,1739.3L894.4,1737.9L892.6,1736.4L890.9,1735.0L889.2,1733.5L887.5,1732.1L885.8,1730.6L884.1,1729.1L882.4,1727.6L880.7,1726.1L879.1,1724.6L877.4,1723.0L875.8,1721.5L874.1,1719.9L872.5,1718.4L870.9,1716.8L869.3,1715.2L867.7,1713.6L866.1,1712.0L864.5,1710.4L862.9,1708.8L861.3,1707.1L859.7,1705.5L858.2,1703.8L856.6,1702.2L855.1,1700.5L853.6,1698.8L852.1,1697.1L850.5,1695.4L849.0,1693.7L847.5,1692.0L846.0,1690.3L844.5,1688.6L843.0,1686.8L841.6,1685.1L840.1,1683.4L838.6,1681.6L837.2,1679.9L835.7,1678.1L834.3,1676.3L832.8,1674.6L831.4,1672.8L830.0,1671.0L828.5,1669.2L827.1,1667.4L825.7,1665.6L824.3,1663.8L822.9,1662.0L821.5,1660.2L820.1,1658.4L818.7,1656.6L817.3,1654.7L815.9,1652.9L814.5,1651.1L813.1,1649.2L811.7,1647.4L810.4,1645.6L809.0,1643.7L807.6,1641.9L806.3,1640.0L804.9,1638.2L803.6,1636.3L802.2,1634.4L800.8,1632.6L799.5,1630.7L798.1,1628.8L796.8,1627.0L795.5,1625.1L794.1,1623.2L792.8,1621.3L791.5,1619.4L790.2,1617.5L788.9,1615.6L787.6,1613.7L786.2,1611.8L784.9,1609.9L783.6,1608.0L782.3,1606.1L781.0,1604.2L779.7,1602.3L778.4,1600.4L777.1,1598.5L765.5,1606.4L766.8,1608.3L768.1,1610.3L769.4,1612.2L770.7,1614.1L772.0,1616.0L773.3,1617.9L774.6,1619.8L775.9,1621.8L777.2,1623.7L778.5,1625.6L779.8,1627.5L781.1,1629.4L782.4,1631.3L783.7,1633.2L785.1,1635.1L786.4,1637.1L787.7,1639.0L789.0,1640.9L790.3,1642.8L791.6,1644.8L792.9,1646.7L794.2,1648.6L795.5,1650.5L796.9,1652.4L798.2,1654.3L799.5,1656.2L800.9,1658.1L802.2,1660.1L803.5,1662.0L804.9,1663.9L806.2,1665.7L807.6,1667.6L809.0,1669.5L810.3,1671.4L811.7,1673.3L813.1,1675.2L814.5,1677.1L815.9,1678.9L817.3,1680.8L818.7,1682.7L820.1,1684.5L821.5,1686.4L823.0,1688.3L824.4,1690.1L825.8,1692.0L827.3,1693.8L828.8,1695.6L830.2,1697.5L831.7,1699.3L833.2,1701.1L834.7,1702.9L836.2,1704.7L837.7,1706.5L839.2,1708.3L840.7,1710.1L842.2,1711.9L843.8,1713.7L845.3,1715.5L846.9,1717.2L848.4,1719.0L850.0,1720.8L851.6,1722.5L853.2,1724.3L854.8,1726.0L856.4,1727.7L858.0,1729.4L859.6,1731.2L861.3,1732.9L862.9,1734.6L864.6,1736.2L866.3,1737.9L868.0,1739.6L869.6,1741.2L871.4,1742.9L873.1,1744.5L874.8,1746.2L876.5,1747.8L878.3,1749.4L880.1,1751.0L881.8,1752.6L883.6,1754.1L885.4,1755.7L887.3,1757.2L889.1,1758.8L890.9,1760.3L892.8,1761.8L894.6,1763.3L896.5,1764.8L898.4,1766.2L900.3,1767.7L902.2,1769.1L904.2,1770.5L906.1,1772.0L908.1,1773.3L910.0,1774.7L912.0,1776.1L914.0,1777.4L916.0,1778.8L918.0,1780.1L920.1,1781.4L922.1,1782.6L924.2,1783.9L926.3,1785.1L928.4,1786.3L930.5,1787.5L932.6,1788.7L934.7,1789.8L936.9,1791.0L939.0,1792.1L941.2,1793.2L943.4,1794.2L945.6,1795.3L947.8,1796.3L950.0,1797.3L952.2,1798.3L954.5,1799.2L956.7,1800.1L959.0,1801.0L961.3,1801.9L963.6,1802.8L965.9,1803.6L968.2,1804.4L970.6,1805.1L972.9,1805.9L975.3,1806.6L977.6,1807.2L980.0,1807.9L982.4,1808.5L984.8,1809.1L987.2,1809.7L989.6,1810.2L992.0,1810.7L994.5,1811.1L996.9,1811.6L999.4,1811.9L1001.8,1812.3L1004.3,1812.6L1006.7,1812.8L1009.2,1813.1L1011.7,1813.2L1014.2,1813.4L1016.7,1813.5L1019.2,1813.6L1021.7,1813.6L1024.2,1813.7L1026.7,1813.6L1029.2,1813.5L1031.7,1813.4L1034.2,1813.3L1036.7,1813.1L1039.2,1812.9L1041.7,1812.6L1044.2,1812.3L1046.7,1811.9L1049.2,1811.5L1051.7,1811.1L1054.1,1810.6L1056.6,1810.1L1059.1,1809.5L1061.5,1808.9L1064.0,1808.2L1066.4,1807.5L1068.8,1806.8L1071.2,1806.0L1073.6,1805.1L1076.0,1804.2L1078.3,1803.2L1080.6,1802.1L1082.9,1801.0L1085.2,1799.9L1087.5,1798.7L1089.7,1797.5L1091.9,1796.3L1094.1,1795.0L1096.3,1793.6L1098.4,1792.2L1100.5,1790.8L1102.6,1789.4L1104.7,1787.8L1106.7,1786.3L1108.7,1784.7L1110.6,1783.1L1112.6,1781.4L1114.4,1779.7L1116.3,1778.0L1118.1,1776.2L1119.9,1774.3L1121.6,1772.5L1123.3,1770.6L1125.0,1768.7L1126.6,1766.7L1128.2,1764.7L1129.7,1762.7L1131.2,1760.6L1132.6,1758.5L1134.0,1756.4L1135.4,1754.2L1136.7,1752.0L1137.9,1749.8L1139.1,1747.6L1140.3,1745.3L1141.4,1743.0L1142.5,1740.7L1143.6,1738.4L1144.6,1736.1L1145.5,1733.7L1146.4,1731.3L1147.2,1728.9L1148.0,1726.5L1148.7,1724.1L1149.4,1721.6L1150.0,1719.1L1150.5,1716.7L1151.0,1714.2L1151.4,1711.7L1151.8,1709.1L1152.1,1706.6L1152.4,1704.1L1152.6,1701.6L1152.7,1699.0L1152.8,1696.5L1152.9,1693.9L1152.8,1691.4L1152.7,1688.8L1152.6,1686.3L1152.4,1683.8L1152.1,1681.3L1151.8,1678.7L1151.4,1676.2L1151.0,1673.7L1150.5,1671.2L1149.9,1668.8L1149.3,1666.3L1148.7,1663.8L1147.9,1661.4L1147.2,1659.0L1146.4,1656.6L1145.5,1654.2L1144.6,1651.8L1143.6,1649.5L1142.6,1647.2L1141.5,1644.9L1140.3,1642.6L1139.2,1640.4L1137.9,1638.2L1136.6,1636.0L1135.3,1633.8L1133.9,1631.7L1132.5,1629.6L1131.0,1627.6L1129.5,1625.5L1128.0,1623.5L1126.4,1621.6L1124.7,1619.7L1123.1,1617.8L1121.3,1615.9L1119.6,1614.1L1117.8,1612.4L1115.9,1610.6L1114.1,1608.9L1112.2,1607.3L1110.2,1605.7L1108.3,1604.1L1106.3,1602.6L1104.2,1601.1L1102.2,1599.7L1100.1,1598.3L1098.0,1596.9L1095.8,1595.6L1093.7,1594.3L1091.5,1593.0L1089.3,1591.8L1087.1,1590.7L1084.8,1589.6L1082.6,1588.5L1080.3,1587.5L1078.0,1586.5L1075.7,1585.5L1073.3,1584.6L1071.0,1583.8L1068.6,1583.0L1066.2,1582.2L1063.8,1581.5L1061.4,1580.8L1059.0,1580.2L1056.6,1579.6L1054.1,1579.0L1051.7,1578.5L1049.3,1578.1L1046.8,1577.6L1044.3,1577.3L1041.9,1576.9L1039.4,1576.6L1036.9,1576.4L1034.4,1576.2L1032.0,1576.0L1029.5,1575.9L1027.0,1575.8L1024.6,1575.8Z" fill="#00ff00" stroke="none"/>
<line x1="1024.5" y1="895.0" x2="1232.0" y2="895.0" stroke="#ff0000" stroke-width="19"/>
<line x1="1232.0" y1="895.0" x2="771.3" y2="1602.5" stroke="#00aee6" stroke-width="19.5"/>
<line x1="1001.6" y1="1248.7" x2="1581.1" y2="1626.1" stroke="#00aee6" stroke-width="19.5"/>
<path d="M1024.5,860.0L1059.5,860.0L1059.5,930.0L1024.5,930.0A35,35 0 0 1 1024.5,860.0Z" fill="#000"/>
<circle cx="1232.0" cy="895.0" r="23.8" fill="#000"/>
<circle cx="771.3" cy="1602.5" r="18.8" fill="#ff0000" stroke="#000" stroke-width="11.5"/>
<g stroke="#262626" fill="none">
<path d="M333.0,202.0L333.0,2279.8" stroke-width="3.8"/>
<path d="M331.1,2278.3L2408.9,2278.3" stroke-width="3.0"/>
<line x1="333.00" y1="2278.3" x2="333.00" y2="2256.0" stroke-width="2.8"/>
<line x1="333.0" y1="2278.00" x2="355.0" y2="2278.00" stroke-width="3.0"/>
<line x1="678.75" y1="2278.3" x2="678.75" y2="2256.0" stroke-width="2.8"/>
<line x1="333.0" y1="1932.25" x2="355.0" y2="1932.25" stroke-width="3.0"/>
<line x1="1024.50" y1="2278.3" x2="1024.50" y2="2256.0" stroke-width="2.8"/>
<line x1="333.0" y1="1586.50" x2="355.0" y2="1586.50" stroke-width="3.0"/>
<line x1="1370.25" y1="2278.3" x2="1370.25" y2="2256.0" stroke-width="2.8"/>
<line x1="333.0" y1="1240.75" x2="355.0" y2="1240.75" stroke-width="3.0"/>
<line x1="1716.00" y1="2278.3" x2="1716.00" y2="2256.0" stroke-width="2.8"/>
<line x1="333.0" y1="895.00" x2="355.0" y2="895.00" stroke-width="3.0"/>
<line x1="2061.75" y1="2278.3" x2="2061.75" y2="2256.0" stroke-width="2.8"/>
<line x1="333.0" y1="549.25" x2="355.0" y2="549.25" stroke-width="3.0"/>
<line x1="2407.50" y1="2278.3" x2="2407.50" y2="2256.0" stroke-width="2.8"/>
<line x1="333.0" y1="203.50" x2="355.0" y2="203.50" stroke-width="3.0"/>
</g>
<path d="M1024.5,1586.5L1149.0,1586.5" stroke="#000" stroke-width="9.5" fill="none"/><path d="M1129.0,1592.2L1149.0,1586.5L1129.0,1580.8" stroke="#000" stroke-width="9.5" fill="none" stroke-linejoin="round"/>
<path d="M1024.5,1586.5L1024.5,1462.0" stroke="#000" stroke-width="9.5" fill="none"/><path d="M1030.2,1482.0L1024.5,1462.0L1018.8,1482.0" stroke="#000" stroke-width="9.5" fill="none" stroke-linejoin="round"/>
<rect x="996.0" y="1558.0" width="57" height="57" fill="#000"/>
<path d="M1581.1,1683.7A57.6,57.6 0 1 0 1523.5,1626.1" stroke="#ff0000" stroke-width="2.3" fill="none"/>
<path d="M1508.1,1617.2L1538.8,1617.2L1523.5,1643.8Z" fill="#ff0000"/>
<path d="M1581.1,1626.1L1408.2,1626.1" stroke="#ff0000" stroke-width="10.1" fill="none"/><path d="M1422.7,1622.4L1408.2,1626.1L1422.7,1629.8" stroke="#ff0000" stroke-width="10.1" fill="none" stroke-linejoin="round"/>
<path d="M1581.1,1626.1L1581.1,1798.9" stroke="#ff0000" stroke-width="10.1" fill="none"/><path d="M1577.4,1784.4L1581.1,1798.9L1584.8,1784.4" stroke="#ff0000" stroke-width="10.1" fill="none" stroke-linejoin="round"/>
<rect x="1576.0" y="1621.0" width="10.1" height="10.1" fill="#ff0000"/>
<g font-family="'Liberation Sans', Arial, sans-serif" font-size="92" fill="#262626">
<text x="331.7" y="2396.2" text-anchor="middle">-1</text>
<text x="302.5" y="2314.0" text-anchor="end">-1</text>
<text x="677.5" y="2396.2" text-anchor="middle">-0.5</text>
<text x="302.5" y="1968.2" text-anchor="end">-0.5</text>
<text x="1023.2" y="2396.2" text-anchor="middle">0</text>
<text x="302.5" y="1622.5" text-anchor="end">0</text>
<text x="1369.0" y="2396.2" text-anchor="middle">0.5</text>
<text x="302.5" y="1276.8" text-anchor="end">0.5</text>
<text x="1714.7" y="2396.2" text-anchor="middle">1</text>
<text x="302.5" y="931.0" text-anchor="end">1</text>
<text x="2060.4" y="2396.2" text-anchor="middle">1.5</text>
<text x="302.5" y="585.2" text-anchor="end">1.5</text>
<text x="2406.2" y="2396.2" text-anchor="middle">2</text>
<text x="302.5" y="239.5" text-anchor="end">2</text>
</g>
<text x="1370.0" y="2523.8" text-anchor="middle" font-family="'Liberation Sans', Arial, sans-serif" font-size="100.5" fill="#262626">x [m]</text>
<text transform="translate(111.7,1240.4) rotate(-90)" text-anchor="middle" font-family="'Liberation Sans', Arial, sans-serif" font-size="100.5" fill="#262626">y [m]</text>
<text x="2247.3" y="102.3" font-family="'Liberation Sans', Arial, sans-serif" font-size="92" fill="#000" word-spacing="-1">= 0º</text>
<text transform="translate(2161.9,102.3) scale(1.16,1)" x="0" y="0" font-family="'Liberation Serif', 'DejaVu Serif', serif" font-style="italic" font-size="86" fill="#000">α</text>
<g font-family="'Liberation Sans', Arial, sans-serif" font-size="92.5" fill="#000">
<text x="888.8" y="826.4">A</text>
<text x="1304.7" y="930.6">B</text>
<text x="658.2" y="1705.4">C</text>
<text x="885.9" y="1724.5">D</text>
<text x="904.5" y="1215.7">E</text>
<text x="1465.1" y="1720.8">F</text>
<text x="1161.5" y="1621.7">X</text>
<text x="1021.9" y="1471.7">Y</text>
</g>
<g font-family="'Liberation Sans', Arial, sans-serif" font-size="66" fill="#000" word-spacing="3">
<text x="1222.0" y="1568.1">F</text><text x="1264.8" y="1603.4" font-size="56">ext,x</text><text x="1403.1" y="1568.1">= -4 N</text>
<text x="1656.5" y="1572.4">M</text><text x="1716.8" y="1607.7" font-size="56">ext,z</text><text x="1854.3" y="1572.4">= 4 Nm</text>
<text x="1598.5" y="1812.8">F</text><text x="1642.0" y="1848.1" font-size="56">ext,y</text><text x="1779.5" y="1812.8">= -4 N</text>
</g>
</svg>
</body></html>
